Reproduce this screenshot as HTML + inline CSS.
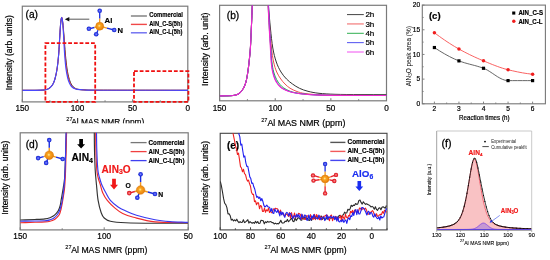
<!DOCTYPE html>
<html><head><meta charset="utf-8"><style>
html,body{margin:0;padding:0;background:#fff;width:550px;height:260px;overflow:hidden}
text{font-family:"Liberation Sans", sans-serif}
</style></head><body>
<svg width="550" height="260" viewBox="0 0 550 260" style="display:block;will-change:transform;font-family:'Liberation Sans', sans-serif">
<defs><radialGradient id="og" cx="0.45" cy="0.45" r="0.6"><stop offset="0" stop-color="#fff0a0"/><stop offset="0.3" stop-color="#f9a420"/><stop offset="1" stop-color="#e57a08"/></radialGradient><radialGradient id="gb" cx="0.5" cy="0.5" r="0.5"><stop offset="0" stop-color="#9aa2ff"/><stop offset="0.45" stop-color="#3a48f0"/><stop offset="1" stop-color="#1424c8"/></radialGradient><radialGradient id="gr" cx="0.5" cy="0.5" r="0.5"><stop offset="0" stop-color="#ffb0b0"/><stop offset="0.45" stop-color="#f04048"/><stop offset="1" stop-color="#d01018"/></radialGradient>
<clipPath id="ca"><rect x="22" y="6" width="166" height="96"/></clipPath>
<clipPath id="cb"><rect x="219.5" y="5.2" width="167" height="95.5"/></clipPath>
<clipPath id="cd"><rect x="20" y="132.8" width="168" height="97"/></clipPath>
<clipPath id="ce"><rect x="220.2" y="133.3" width="167" height="96.6"/></clipPath>
<clipPath id="cf"><rect x="436.7" y="131" width="95" height="99.5"/></clipPath>
<clipPath id="topclip"><rect x="0" y="0" width="550" height="123.3"/></clipPath>
</defs>
<rect width="550" height="260" fill="#fff"/>
<rect x="22.3" y="6.2" width="165.5" height="95.7" fill="none" stroke="#7a7a7a" stroke-width="1.2"/>
<line x1="187.8" y1="101.9" x2="187.8" y2="99.3" stroke="#7a7a7a" stroke-width="1"/>
<line x1="160.22" y1="101.9" x2="160.22" y2="100.3" stroke="#7a7a7a" stroke-width="1"/>
<line x1="132.63" y1="101.9" x2="132.63" y2="99.3" stroke="#7a7a7a" stroke-width="1"/>
<line x1="105.05" y1="101.9" x2="105.05" y2="100.3" stroke="#7a7a7a" stroke-width="1"/>
<line x1="77.47" y1="101.9" x2="77.47" y2="99.3" stroke="#7a7a7a" stroke-width="1"/>
<line x1="49.88" y1="101.9" x2="49.88" y2="100.3" stroke="#7a7a7a" stroke-width="1"/>
<line x1="22.3" y1="101.9" x2="22.3" y2="99.3" stroke="#7a7a7a" stroke-width="1"/>
<text x="22.3" y="111" font-size="8.2" text-anchor="middle" font-weight="normal" fill="#000"  stroke="#000" stroke-width="0.2">150</text>
<text x="77.47" y="111" font-size="8.2" text-anchor="middle" font-weight="normal" fill="#000"  stroke="#000" stroke-width="0.2">100</text>
<text x="132.63" y="111" font-size="8.2" text-anchor="middle" font-weight="normal" fill="#000"  stroke="#000" stroke-width="0.2">50</text>
<text x="187.8" y="111" font-size="8.2" text-anchor="middle" font-weight="normal" fill="#000"  stroke="#000" stroke-width="0.2">0</text>
<g clip-path="url(#topclip)">
<text x="66.3" y="121.3" font-size="5.6" text-anchor="start" font-weight="normal" fill="#000"  stroke="#000" stroke-width="0.1">27</text>
<text x="71.3" y="125" font-size="9" text-anchor="start" font-weight="normal" fill="#000" textLength="73" lengthAdjust="spacingAndGlyphs" stroke="#000" stroke-width="0.2">Al MAS NMR (ppm)</text>
</g>
<text x="11.8" y="52.7" font-size="8.8" text-anchor="middle" transform="rotate(-90 11.8 52.7)" textLength="75" lengthAdjust="spacingAndGlyphs" stroke="#000" stroke-width="0.2">Intensity (arb. units)</text>
<text x="25.5" y="17.6" font-size="10.2" text-anchor="start" font-weight="normal" fill="#000"  stroke="#000" stroke-width="0.28">(a)</text>
<g clip-path="url(#ca)">
<path d="M22.5,90.3 C26.67,90.3 31.75,90.32 35,90.3 C38.25,90.28 40.17,90.25 42,90.15 C43.83,90.05 44.83,89.99 46,89.7 C47.17,89.41 48.12,88.95 49,88.4 C49.88,87.85 50.57,87.27 51.3,86.4 C52.03,85.53 52.75,84.6 53.4,83.2 C54.05,81.8 54.57,80.53 55.2,78 C55.83,75.47 56.62,72 57.2,68 C57.78,64 58.27,59.33 58.7,54 C59.13,48.67 59.47,41.17 59.8,36 C60.13,30.83 60.38,26.1 60.7,23 C61.02,19.9 61.35,17.4 61.7,17.4 C62.05,17.4 62.44,19.9 62.82,23 C63.21,26.1 63.57,30.83 63.99,36 C64.41,41.17 64.85,48.5 65.36,54 C65.87,59.5 66.47,65 67.07,69 C67.67,73 68.32,75.62 68.95,78 C69.59,80.38 70.2,81.88 70.86,83.3 C71.52,84.72 72.16,85.65 72.93,86.5 C73.7,87.35 74.54,87.92 75.47,88.4 C76.39,88.88 76.65,89.13 78.49,89.4 C80.33,89.67 82.91,89.87 86.5,90 C90.09,90.13 83.12,90.15 100,90.2 C116.88,90.25 158.53,90.27 187.8,90.3" fill="none" stroke="#333" stroke-width="1" stroke-linejoin="round" />
<path d="M22.5,90.3 C26.67,90.3 31.75,90.32 35,90.3 C38.25,90.28 40.17,90.25 42,90.15 C43.83,90.05 44.83,89.99 46,89.7 C47.17,89.41 48.12,88.95 49,88.4 C49.88,87.85 50.57,87.27 51.3,86.4 C52.03,85.53 52.75,84.6 53.4,83.2 C54.05,81.8 54.57,80.53 55.2,78 C55.83,75.47 56.62,72 57.2,68 C57.78,64 58.27,59.33 58.7,54 C59.13,48.67 59.47,41.17 59.8,36 C60.13,30.83 60.38,26.1 60.7,23 C61.02,19.9 61.35,17.4 61.7,17.4 C62.05,17.4 62.42,19.9 62.77,23 C63.13,26.1 63.45,30.83 63.83,36 C64.21,41.17 64.59,48.5 65.06,54 C65.52,59.5 66.08,65 66.64,69 C67.21,73 67.84,75.62 68.45,78 C69.06,80.38 69.67,81.88 70.32,83.3 C70.97,84.72 71.6,85.65 72.36,86.5 C73.12,87.35 73.96,87.92 74.88,88.4 C75.8,88.88 76.06,89.13 77.89,89.4 C79.73,89.67 82.22,89.87 85.9,90 C89.58,90.13 83.02,90.15 100,90.2 C116.98,90.25 158.53,90.27 187.8,90.3" fill="none" stroke="#e8342e" stroke-width="1" stroke-linejoin="round" />
<path d="M22.5,90.3 C26.67,90.3 31.75,90.32 35,90.3 C38.25,90.28 40.17,90.25 42,90.15 C43.83,90.05 44.83,89.99 46,89.7 C47.17,89.41 48.12,88.95 49,88.4 C49.88,87.85 50.57,87.27 51.3,86.4 C52.03,85.53 52.75,84.6 53.4,83.2 C54.05,81.8 54.57,80.53 55.2,78 C55.83,75.47 56.62,72 57.2,68 C57.78,64 58.27,59.33 58.7,54 C59.13,48.67 59.47,41.17 59.8,36 C60.13,30.83 60.38,26.1 60.7,23 C61.02,19.9 61.37,17.4 61.7,17.4 C62.03,17.4 62.38,19.9 62.7,23 C63.02,26.1 63.28,30.83 63.6,36 C63.92,41.17 64.2,48.5 64.6,54 C65,59.5 65.48,65 66,69 C66.52,73 67.12,75.62 67.7,78 C68.28,80.38 68.87,81.88 69.5,83.3 C70.13,84.72 70.75,85.65 71.5,86.5 C72.25,87.35 73.08,87.92 74,88.4 C74.92,88.88 75.17,89.13 77,89.4 C78.83,89.67 81.17,89.87 85,90 C88.83,90.13 82.87,90.15 100,90.2 C117.13,90.25 158.53,90.27 187.8,90.3" fill="none" stroke="#4848ff" stroke-width="1.15" stroke-linejoin="round" />
</g>
<rect x="45.4" y="43.2" width="49.8" height="58.6" fill="none" stroke="#f01010" stroke-width="1.8" stroke-dasharray="3.8,1.9"/>
<rect x="134" y="71.2" width="54.4" height="30.6" fill="none" stroke="#f01010" stroke-width="1.8" stroke-dasharray="3.8,1.9"/>
<line x1="68" y1="19.2" x2="89.3" y2="19.2" stroke="#666" stroke-width="1.1" />
<path d="M64.8,19.2 L69.3,16.9 L69.3,21.5 Z" fill="#111"/>
<line x1="99.7" y1="26.2" x2="99.7" y2="18.5" stroke="#f39a1e" stroke-width="1.3" />
<line x1="99.7" y1="18.5" x2="99.7" y2="10.8" stroke="#1a2ee0" stroke-width="1.3" />
<line x1="99.7" y1="26.2" x2="94.3" y2="27.5" stroke="#f39a1e" stroke-width="1.3" />
<line x1="94.3" y1="27.5" x2="88.9" y2="28.8" stroke="#1a2ee0" stroke-width="1.3" />
<line x1="99.7" y1="26.2" x2="97.95" y2="30.2" stroke="#f39a1e" stroke-width="1.3" />
<line x1="97.95" y1="30.2" x2="96.2" y2="34.2" stroke="#1a2ee0" stroke-width="1.3" />
<line x1="99.7" y1="26.2" x2="106.95" y2="28.1" stroke="#f39a1e" stroke-width="1.3" />
<line x1="106.95" y1="28.1" x2="114.2" y2="30" stroke="#1a2ee0" stroke-width="1.3" />
<circle cx="99.7" cy="10.8" r="2.3" fill="url(#gb)"/>
<circle cx="88.9" cy="28.8" r="2.3" fill="url(#gb)"/>
<circle cx="96.2" cy="34.2" r="2.3" fill="url(#gb)"/>
<circle cx="114.2" cy="30" r="2.3" fill="url(#gb)"/>
<circle cx="99.7" cy="26.2" r="4" fill="url(#og)" stroke="#d9780a" stroke-width="0.5"/>
<text x="104.6" y="22.6" font-size="7.8" text-anchor="start" font-weight="bold" fill="#000"  stroke="#000" stroke-width="0.18">Al</text>
<text x="117.4" y="33.1" font-size="7.6" text-anchor="start" font-weight="bold" fill="#000"  stroke="#000" stroke-width="0.18">N</text>
<line x1="130.9" y1="16" x2="146.9" y2="16" stroke="#7a7a7a" stroke-width="1.4" />
<text x="149.2" y="17.2" font-size="7.4" text-anchor="start" font-weight="bold" fill="#000" textLength="33.7" lengthAdjust="spacingAndGlyphs" stroke="#000" stroke-width="0.18">Commercial</text>
<line x1="130.9" y1="24.4" x2="146.9" y2="24.4" stroke="#f04848" stroke-width="1.4" />
<text x="149.2" y="25.6" font-size="7.4" text-anchor="start" font-weight="bold" fill="#000" textLength="33.2" lengthAdjust="spacingAndGlyphs" stroke="#000" stroke-width="0.18">AlN_C-S(5h)</text>
<line x1="130.9" y1="32.8" x2="146.9" y2="32.8" stroke="#6a6af0" stroke-width="1.4" />
<text x="149.2" y="34" font-size="7.4" text-anchor="start" font-weight="bold" fill="#000" textLength="33.2" lengthAdjust="spacingAndGlyphs" stroke="#000" stroke-width="0.18">AlN_C-L(5h)</text>
<rect x="219.6" y="5.3" width="166.9" height="95.5" fill="none" stroke="#7a7a7a" stroke-width="1.2"/>
<line x1="386.5" y1="100.8" x2="386.5" y2="98.2" stroke="#7a7a7a" stroke-width="1"/>
<line x1="358.68" y1="100.8" x2="358.68" y2="99.2" stroke="#7a7a7a" stroke-width="1"/>
<line x1="330.87" y1="100.8" x2="330.87" y2="98.2" stroke="#7a7a7a" stroke-width="1"/>
<line x1="303.05" y1="100.8" x2="303.05" y2="99.2" stroke="#7a7a7a" stroke-width="1"/>
<line x1="275.23" y1="100.8" x2="275.23" y2="98.2" stroke="#7a7a7a" stroke-width="1"/>
<line x1="247.42" y1="100.8" x2="247.42" y2="99.2" stroke="#7a7a7a" stroke-width="1"/>
<line x1="219.6" y1="100.8" x2="219.6" y2="98.2" stroke="#7a7a7a" stroke-width="1"/>
<text x="219.6" y="111" font-size="8.2" text-anchor="middle" font-weight="normal" fill="#000"  stroke="#000" stroke-width="0.2">150</text>
<text x="275.23" y="111" font-size="8.2" text-anchor="middle" font-weight="normal" fill="#000"  stroke="#000" stroke-width="0.2">100</text>
<text x="330.87" y="111" font-size="8.2" text-anchor="middle" font-weight="normal" fill="#000"  stroke="#000" stroke-width="0.2">50</text>
<text x="386.5" y="111" font-size="8.2" text-anchor="middle" font-weight="normal" fill="#000"  stroke="#000" stroke-width="0.2">0</text>
<text x="261.2" y="121.8" font-size="5.6" text-anchor="start" font-weight="normal" fill="#000"  stroke="#000" stroke-width="0.1">27</text>
<text x="267.4" y="125.7" font-size="9" text-anchor="start" font-weight="normal" fill="#000" textLength="78" lengthAdjust="spacingAndGlyphs" stroke="#000" stroke-width="0.2">Al MAS NMR (ppm)</text>
<text x="208.3" y="49.3" font-size="8.6" text-anchor="middle" transform="rotate(-90 208.3 49.3)" textLength="73.5" lengthAdjust="spacingAndGlyphs" stroke="#000" stroke-width="0.2">Intensity (arb. unit)</text>
<text x="226.8" y="18.9" font-size="10.2" text-anchor="start" font-weight="normal" fill="#000"  stroke="#000" stroke-width="0.28">(b)</text>
<g clip-path="url(#cb)">
<path d="M219.8,95.9 C222.53,95.87 225.8,95.87 228,95.8 C230.2,95.73 231.5,95.7 233,95.5 C234.5,95.3 235.83,95.05 237,94.6 C238.17,94.15 239.12,93.57 240,92.8 C240.88,92.03 241.63,90.93 242.3,90 C242.97,89.07 243.42,88.45 244,87.2 C244.58,85.95 245.27,84.37 245.8,82.5 C246.33,80.63 246.75,78.58 247.2,76 C247.65,73.42 248.12,70 248.5,67 C248.88,64 249.18,61.17 249.5,58 C249.82,54.83 250.08,53.17 250.4,48 C250.72,42.83 251.08,34.17 251.4,27 C251.72,19.83 252.07,10.83 252.3,5 C252.53,-0.83 250.2,-5.83 252.8,-8 C255.4,-10.17 265.3,-10.17 267.9,-8 C270.5,-5.83 267.98,-1 268.4,5 C268.82,11 269.67,20.83 270.4,28 C271.13,35.17 271.82,42.33 272.8,48 C273.78,53.67 274.93,58 276.3,62 C277.67,66 279.3,69.17 281,72 C282.7,74.83 284.58,77 286.5,79 C288.42,81 290.33,82.45 292.5,84 C294.67,85.55 296.92,87.08 299.5,88.3 C302.08,89.52 304.75,90.47 308,91.3 C311.25,92.13 314.5,92.8 319,93.3 C323.5,93.8 328.17,94.08 335,94.3 C341.83,94.52 351.42,94.53 360,94.6 C368.58,94.67 377.67,94.67 386.5,94.7" fill="none" stroke="#333" stroke-width="1" stroke-linejoin="round" />
<path d="M219.8,95.9 C222.53,95.87 225.8,95.87 228,95.8 C230.2,95.73 231.5,95.7 233,95.5 C234.5,95.3 235.83,95.05 237,94.6 C238.17,94.15 239.12,93.57 240,92.8 C240.88,92.03 241.63,90.93 242.3,90 C242.97,89.07 243.42,88.45 244,87.2 C244.58,85.95 245.27,84.37 245.8,82.5 C246.33,80.63 246.75,78.58 247.2,76 C247.65,73.42 248.12,70 248.5,67 C248.88,64 249.18,61.17 249.5,58 C249.82,54.83 250.08,53.17 250.4,48 C250.72,42.83 251.08,34.17 251.4,27 C251.72,19.83 252.07,10.83 252.3,5 C252.53,-0.83 250.23,-5.83 252.8,-8 C255.37,-10.17 265.13,-10.17 267.7,-8 C270.27,-5.83 267.87,-1 268.2,5 C268.53,11 269.15,20.83 269.7,28 C270.25,35.17 270.85,42.33 271.5,48 C272.15,53.67 272.73,58 273.6,62 C274.47,66 275.5,69.17 276.7,72 C277.9,74.83 279.42,77 280.8,79 C282.18,81 283.47,82.47 285,84 C286.53,85.53 288,86.95 290,88.2 C292,89.45 294.5,90.62 297,91.5 C299.5,92.38 301.17,92.95 305,93.5 C308.83,94.05 313.33,94.5 320,94.8 C326.67,95.1 333.92,95.18 345,95.3 C356.08,95.42 372.67,95.43 386.5,95.5" fill="none" stroke="#f05050" stroke-width="1" stroke-linejoin="round" />
<path d="M219.8,95.9 C222.53,95.87 225.8,95.87 228,95.8 C230.2,95.73 231.5,95.7 233,95.5 C234.5,95.3 235.83,95.05 237,94.6 C238.17,94.15 239.12,93.57 240,92.8 C240.88,92.03 241.63,90.93 242.3,90 C242.97,89.07 243.42,88.45 244,87.2 C244.58,85.95 245.27,84.37 245.8,82.5 C246.33,80.63 246.75,78.58 247.2,76 C247.65,73.42 248.12,70 248.5,67 C248.88,64 249.18,61.17 249.5,58 C249.82,54.83 250.08,53.17 250.4,48 C250.72,42.83 251.08,34.17 251.4,27 C251.72,19.83 252.07,10.83 252.3,5 C252.53,-0.83 250.25,-5.83 252.8,-8 C255.35,-10.17 265.05,-10.17 267.6,-8 C270.15,-5.83 267.82,-1 268.1,5 C268.38,11 268.87,20.83 269.3,28 C269.73,35.17 270.27,42.33 270.7,48 C271.13,53.67 271.4,58 271.9,62 C272.4,66 272.92,69.08 273.7,72 C274.48,74.92 275.58,77.45 276.6,79.5 C277.62,81.55 278.6,82.88 279.8,84.3 C281,85.72 282.02,86.82 283.8,88 C285.58,89.18 287.8,90.48 290.5,91.4 C293.2,92.32 295.92,92.93 300,93.5 C304.08,94.07 308.33,94.5 315,94.8 C321.67,95.1 328.08,95.18 340,95.3 C351.92,95.42 371,95.43 386.5,95.5" fill="none" stroke="#22b24a" stroke-width="1" stroke-linejoin="round" />
<path d="M219.8,95.9 C222.53,95.87 225.8,95.87 228,95.8 C230.2,95.73 231.5,95.7 233,95.5 C234.5,95.3 235.83,95.05 237,94.6 C238.17,94.15 239.12,93.57 240,92.8 C240.88,92.03 241.63,90.93 242.3,90 C242.97,89.07 243.42,88.45 244,87.2 C244.58,85.95 245.27,84.37 245.8,82.5 C246.33,80.63 246.75,78.58 247.2,76 C247.65,73.42 248.12,70 248.5,67 C248.88,64 249.18,61.17 249.5,58 C249.82,54.83 250.08,53.17 250.4,48 C250.72,42.83 251.08,34.17 251.4,27 C251.72,19.83 252.07,10.83 252.3,5 C252.53,-0.83 250.18,-5.83 252.8,-8 C255.42,-10.17 265.38,-10.17 268,-8 C270.62,-5.83 268.23,-1 268.5,5 C268.77,11 269.22,20.83 269.6,28 C269.98,35.17 270.47,42.33 270.8,48 C271.13,53.67 271.23,58 271.6,62 C271.97,66 272.37,69.08 273,72 C273.63,74.92 274.5,77.42 275.4,79.5 C276.3,81.58 277.23,83.03 278.4,84.5 C279.57,85.97 280.4,87.08 282.4,88.3 C284.4,89.52 287.4,90.9 290.4,91.8 C293.4,92.7 296.23,93.18 300.4,93.7 C304.57,94.22 308.73,94.62 315.4,94.9 C322.07,95.18 328.48,95.3 340.4,95.4 C352.32,95.5 371.4,95.47 386.9,95.5" fill="none" stroke="#4b3df0" stroke-width="0.9" stroke-linejoin="round" />
<path d="M219.8,95.9 C222.53,95.87 225.8,95.87 228,95.8 C230.2,95.73 231.5,95.7 233,95.5 C234.5,95.3 235.83,95.05 237,94.6 C238.17,94.15 239.12,93.57 240,92.8 C240.88,92.03 241.63,90.93 242.3,90 C242.97,89.07 243.42,88.45 244,87.2 C244.58,85.95 245.27,84.37 245.8,82.5 C246.33,80.63 246.75,78.58 247.2,76 C247.65,73.42 248.12,70 248.5,67 C248.88,64 249.18,61.17 249.5,58 C249.82,54.83 250.08,53.17 250.4,48 C250.72,42.83 251.08,34.17 251.4,27 C251.72,19.83 252.07,10.83 252.3,5 C252.53,-0.83 250.25,-5.83 252.8,-8 C255.35,-10.17 265.05,-10.17 267.6,-8 C270.15,-5.83 267.83,-1 268.1,5 C268.37,11 268.82,20.83 269.2,28 C269.58,35.17 270.07,42.33 270.4,48 C270.73,53.67 270.83,58 271.2,62 C271.57,66 271.97,69.08 272.6,72 C273.23,74.92 274.1,77.42 275,79.5 C275.9,81.58 276.83,83.03 278,84.5 C279.17,85.97 280,87.08 282,88.3 C284,89.52 287,90.9 290,91.8 C293,92.7 295.83,93.18 300,93.7 C304.17,94.22 308.33,94.62 315,94.9 C321.67,95.18 328.08,95.3 340,95.4 C351.92,95.5 371,95.47 386.5,95.5" fill="none" stroke="#f028d0" stroke-width="1.15" stroke-linejoin="round" />
</g>
<line x1="347" y1="14.6" x2="363.8" y2="14.6" stroke="#444" stroke-width="1.0" />
<text x="365.4" y="17.4" font-size="8" text-anchor="start" font-weight="normal" fill="#000"  stroke="#000" stroke-width="0.2">2h</text>
<line x1="347" y1="23.95" x2="363.8" y2="23.95" stroke="#f06060" stroke-width="1.0" />
<text x="365.4" y="26.75" font-size="8" text-anchor="start" font-weight="normal" fill="#000"  stroke="#000" stroke-width="0.2">3h</text>
<line x1="347" y1="33.3" x2="363.8" y2="33.3" stroke="#30b050" stroke-width="1.0" />
<text x="365.4" y="36.1" font-size="8" text-anchor="start" font-weight="normal" fill="#000"  stroke="#000" stroke-width="0.2">4h</text>
<line x1="347" y1="42.65" x2="363.8" y2="42.65" stroke="#5050f0" stroke-width="1.0" />
<text x="365.4" y="45.45" font-size="8" text-anchor="start" font-weight="normal" fill="#000"  stroke="#000" stroke-width="0.2">5h</text>
<line x1="347" y1="52" x2="363.8" y2="52" stroke="#f050f0" stroke-width="1.0" />
<text x="365.4" y="54.8" font-size="8" text-anchor="start" font-weight="normal" fill="#000"  stroke="#000" stroke-width="0.2">6h</text>
<rect x="422.3" y="5.1" width="123.1" height="98.7" fill="none" stroke="#777" stroke-width="1.1"/>
<line x1="422.3" y1="103.8" x2="424.5" y2="103.8" stroke="#777" stroke-width="0.9"/>
<text x="420.2" y="106.1" font-size="6.6" text-anchor="end" font-weight="normal" fill="#000"  stroke="#000" stroke-width="0.2">0</text>
<line x1="422.3" y1="79.12" x2="424.5" y2="79.12" stroke="#777" stroke-width="0.9"/>
<text x="420.2" y="81.42" font-size="6.6" text-anchor="end" font-weight="normal" fill="#000"  stroke="#000" stroke-width="0.2">5</text>
<line x1="422.3" y1="54.45" x2="424.5" y2="54.45" stroke="#777" stroke-width="0.9"/>
<text x="420.2" y="56.75" font-size="6.6" text-anchor="end" font-weight="normal" fill="#000"  stroke="#000" stroke-width="0.2">10</text>
<line x1="422.3" y1="29.77" x2="424.5" y2="29.77" stroke="#777" stroke-width="0.9"/>
<text x="420.2" y="32.07" font-size="6.6" text-anchor="end" font-weight="normal" fill="#000"  stroke="#000" stroke-width="0.2">15</text>
<line x1="422.3" y1="5.1" x2="424.5" y2="5.1" stroke="#777" stroke-width="0.9"/>
<text x="420.2" y="7.4" font-size="6.6" text-anchor="end" font-weight="normal" fill="#000"  stroke="#000" stroke-width="0.2">20</text>
<line x1="422.3" y1="91.46" x2="423.6" y2="91.46" stroke="#777" stroke-width="0.9"/>
<line x1="422.3" y1="66.79" x2="423.6" y2="66.79" stroke="#777" stroke-width="0.9"/>
<line x1="422.3" y1="42.11" x2="423.6" y2="42.11" stroke="#777" stroke-width="0.9"/>
<line x1="422.3" y1="17.44" x2="423.6" y2="17.44" stroke="#777" stroke-width="0.9"/>
<line x1="434.4" y1="103.8" x2="434.4" y2="101.6" stroke="#777" stroke-width="0.9"/>
<text x="434.4" y="111" font-size="6.6" text-anchor="middle" font-weight="normal" fill="#000"  stroke="#000" stroke-width="0.2">2</text>
<line x1="458.95" y1="103.8" x2="458.95" y2="101.6" stroke="#777" stroke-width="0.9"/>
<text x="458.95" y="111" font-size="6.6" text-anchor="middle" font-weight="normal" fill="#000"  stroke="#000" stroke-width="0.2">3</text>
<line x1="483.5" y1="103.8" x2="483.5" y2="101.6" stroke="#777" stroke-width="0.9"/>
<text x="483.5" y="111" font-size="6.6" text-anchor="middle" font-weight="normal" fill="#000"  stroke="#000" stroke-width="0.2">4</text>
<line x1="508.05" y1="103.8" x2="508.05" y2="101.6" stroke="#777" stroke-width="0.9"/>
<text x="508.05" y="111" font-size="6.6" text-anchor="middle" font-weight="normal" fill="#000"  stroke="#000" stroke-width="0.2">5</text>
<line x1="532.6" y1="103.8" x2="532.6" y2="101.6" stroke="#777" stroke-width="0.9"/>
<text x="532.6" y="111" font-size="6.6" text-anchor="middle" font-weight="normal" fill="#000"  stroke="#000" stroke-width="0.2">6</text>
<line x1="446.67" y1="103.8" x2="446.67" y2="102.5" stroke="#777" stroke-width="0.9"/>
<line x1="471.22" y1="103.8" x2="471.22" y2="102.5" stroke="#777" stroke-width="0.9"/>
<line x1="495.77" y1="103.8" x2="495.77" y2="102.5" stroke="#777" stroke-width="0.9"/>
<line x1="520.32" y1="103.8" x2="520.32" y2="102.5" stroke="#777" stroke-width="0.9"/>
<text x="484.3" y="120.1" font-size="6.5" text-anchor="middle" font-weight="normal" fill="#000" textLength="50.4" lengthAdjust="spacingAndGlyphs" stroke="#000" stroke-width="0.2">Reaction times (h)</text>
<text font-size="6.7" transform="translate(410.8 86.2) rotate(-90)" textLength="60" lengthAdjust="spacingAndGlyphs">AlN<tspan font-size="4.6" dy="1.3">3</tspan><tspan dy="-1.3">O peak area (%)</tspan></text>
<text x="428.9" y="19.4" font-size="9.6" text-anchor="start" font-weight="bold" fill="#000"  stroke="#000" stroke-width="0.18">(c)</text>
<path d="M434.4,32.74 L436.92,34.61 L439.44,36.45 L441.95,38.24 L444.47,39.99 L446.99,41.69 L449.51,43.33 L452.03,44.93 L454.54,46.47 L457.06,47.95 L459.58,49.37 L462.1,50.75 L464.62,52.08 L467.13,53.37 L469.65,54.63 L472.17,55.84 L474.69,57.02 L477.21,58.16 L479.72,59.27 L482.24,60.34 L484.76,61.39 L487.28,62.43 L489.79,63.47 L492.31,64.49 L494.83,65.47 L497.35,66.42 L499.87,67.32 L502.38,68.15 L504.9,68.92 L507.42,69.59 L509.94,70.2 L512.46,70.78 L514.97,71.34 L517.49,71.87 L520.01,72.37 L522.53,72.83 L525.05,73.25 L527.56,73.62 L530.08,73.93 L532.6,74.19" fill="none" stroke="#f85050" stroke-width="0.9" stroke-linejoin="round" />
<path d="M434.4,47.54 L436.92,49.19 L439.44,50.79 L441.95,52.33 L444.47,53.81 L446.99,55.22 L449.51,56.56 L452.03,57.83 L454.54,59.01 L457.06,60.11 L459.58,61.11 L462.1,61.99 L464.62,62.79 L467.13,63.51 L469.65,64.19 L472.17,64.85 L474.69,65.51 L477.21,66.21 L479.72,66.97 L482.24,67.81 L484.76,68.79 L487.28,70.07 L489.79,71.6 L492.31,73.26 L494.83,74.96 L497.35,76.61 L499.87,78.09 L502.38,79.32 L504.9,80.18 L507.42,80.59 L509.94,80.61 L512.46,80.61 L514.97,80.61 L517.49,80.61 L520.01,80.61 L522.53,80.61 L525.05,80.61 L527.56,80.61 L530.08,80.61 L532.6,80.61" fill="none" stroke="#555" stroke-width="0.9" stroke-linejoin="round" />
<circle cx="434.4" cy="32.74" r="1.75" fill="#f01e1e" stroke="none" stroke-width="0" />
<rect x="432.8" y="45.94" width="3.2" height="3.2" fill="#000"/>
<circle cx="458.95" cy="49.02" r="1.75" fill="#f01e1e" stroke="none" stroke-width="0" />
<rect x="457.35" y="59.27" width="3.2" height="3.2" fill="#000"/>
<circle cx="483.5" cy="60.87" r="1.75" fill="#f01e1e" stroke="none" stroke-width="0" />
<rect x="481.9" y="66.67" width="3.2" height="3.2" fill="#000"/>
<circle cx="508.05" cy="69.75" r="1.75" fill="#f01e1e" stroke="none" stroke-width="0" />
<rect x="506.45" y="79.01" width="3.2" height="3.2" fill="#000"/>
<circle cx="532.6" cy="74.19" r="1.75" fill="#f01e1e" stroke="none" stroke-width="0" />
<rect x="531" y="79.01" width="3.2" height="3.2" fill="#000"/>
<rect x="512.2" y="11.5" width="3.1" height="3.1" fill="#000"/>
<circle cx="513.8" cy="21.2" r="1.7" fill="#f01e1e" stroke="none" stroke-width="0" />
<text x="518.4" y="15.2" font-size="6.5" text-anchor="start" font-weight="bold" fill="#000" textLength="24.6" lengthAdjust="spacingAndGlyphs" stroke="#000" stroke-width="0.18">AlN_C-S</text>
<text x="518.4" y="23.5" font-size="6.5" text-anchor="start" font-weight="bold" fill="#000" textLength="24.2" lengthAdjust="spacingAndGlyphs" stroke="#000" stroke-width="0.18">AlN_C-L</text>
<rect x="20.2" y="132.8" width="168" height="97.1" fill="none" stroke="#7a7a7a" stroke-width="1.2"/>
<line x1="188.2" y1="229.9" x2="188.2" y2="227.3" stroke="#7a7a7a" stroke-width="1"/>
<line x1="146.2" y1="229.9" x2="146.2" y2="228.3" stroke="#7a7a7a" stroke-width="1"/>
<line x1="104.2" y1="229.9" x2="104.2" y2="227.3" stroke="#7a7a7a" stroke-width="1"/>
<line x1="62.2" y1="229.9" x2="62.2" y2="228.3" stroke="#7a7a7a" stroke-width="1"/>
<line x1="20.2" y1="229.9" x2="20.2" y2="227.3" stroke="#7a7a7a" stroke-width="1"/>
<text x="20.2" y="239.2" font-size="8.2" text-anchor="middle" font-weight="normal" fill="#000"  stroke="#000" stroke-width="0.2">150</text>
<text x="104.2" y="239.2" font-size="8.2" text-anchor="middle" font-weight="normal" fill="#000"  stroke="#000" stroke-width="0.2">100</text>
<text x="188.2" y="239.2" font-size="8.2" text-anchor="middle" font-weight="normal" fill="#000"  stroke="#000" stroke-width="0.2">50</text>
<text x="65.3" y="249.3" font-size="5.6" text-anchor="start" font-weight="normal" fill="#000"  stroke="#000" stroke-width="0.1">27</text>
<text x="71.3" y="253.2" font-size="9" text-anchor="start" font-weight="normal" fill="#000" textLength="76" lengthAdjust="spacingAndGlyphs" stroke="#000" stroke-width="0.2">Al MAS NMR (ppm)</text>
<text x="8.5" y="177.7" font-size="8.5" text-anchor="middle" transform="rotate(-90 8.5 177.7)" textLength="74" lengthAdjust="spacingAndGlyphs" stroke="#000" stroke-width="0.2">Intensity (arb. units)</text>
<text x="25.7" y="147.8" font-size="10.2" text-anchor="start" font-weight="normal" fill="#000"  stroke="#000" stroke-width="0.28">(d)</text>
<g clip-path="url(#cd)">
<path d="M20.3,220 C25.2,219.83 30.88,219.68 35,219.5 C39.12,219.32 42.5,219.2 45,218.9 C47.5,218.6 48.55,218.22 50,217.7 C51.45,217.18 52.62,216.55 53.7,215.8 C54.78,215.05 55.7,214.12 56.5,213.2 C57.3,212.28 57.88,211.58 58.5,210.3 C59.12,209.02 59.73,207.35 60.2,205.5 C60.67,203.65 60.78,202.17 61.3,199.2 C61.82,196.23 62.75,191.23 63.3,187.7 C63.85,184.17 64.22,183.45 64.6,178 C64.98,172.55 65.33,162.17 65.6,155 C65.87,147.83 66.05,140 66.2,135 C66.35,130 66.38,129.17 66.5,125 C66.62,120.83 62.35,112.5 66.9,110 C71.45,107.5 89.25,107.5 93.8,110 C98.35,112.5 94.08,118.33 94.2,125 C94.32,131.67 94.33,142.5 94.5,150 C94.67,157.5 94.87,164.17 95.2,170 C95.53,175.83 96.02,179.93 96.5,185 C96.98,190.07 97.32,195.78 98.1,200.4 C98.88,205.02 100.18,209.77 101.2,212.7 C102.22,215.63 102.67,216.58 104.2,218 C105.73,219.42 106.8,220.42 110.4,221.2 C114,221.98 118.37,222.37 125.8,222.7 C133.23,223.03 144.63,223.12 155,223.2 C165.37,223.28 177,223.2 188,223.2" fill="none" stroke="#333" stroke-width="1.15" stroke-linejoin="round" />
<path d="M20.3,222.7 C25.2,222.57 30.88,222.43 35,222.3 C39.12,222.17 42.5,222.08 45,221.9 C47.5,221.72 48.4,221.62 50,221.2 C51.6,220.78 53.43,220.05 54.6,219.4 C55.77,218.75 56.2,218.1 57,217.3 C57.8,216.5 58.73,215.9 59.4,214.6 C60.07,213.3 60.52,211.43 61,209.5 C61.48,207.57 61.87,205.42 62.3,203 C62.73,200.58 63.22,197.55 63.6,195 C63.98,192.45 64.3,191.03 64.6,187.7 C64.9,184.37 65.17,180.45 65.4,175 C65.63,169.55 65.82,161.67 66,155 C66.18,148.33 66.37,140 66.5,135 C66.63,130 66.7,129.17 66.8,125 C66.9,120.83 62.37,112.5 67.1,110 C71.83,107.5 90.45,107.5 95.2,110 C99.95,112.5 95.48,118.33 95.6,125 C95.72,131.67 95.7,142.5 95.9,150 C96.1,157.5 96.42,165.33 96.8,170 C97.18,174.67 97.6,175.5 98.2,178 C98.8,180.5 99.65,182.55 100.4,185 C101.15,187.45 101.55,190.13 102.7,192.7 C103.85,195.27 105.25,197.83 107.3,200.4 C109.35,202.97 112.43,205.92 115,208.1 C117.57,210.28 119.62,211.97 122.7,213.5 C125.78,215.03 128.12,215.9 133.5,217.3 C138.88,218.7 145.93,221.02 155,221.9 C164.07,222.78 176.93,222.37 187.9,222.6" fill="none" stroke="#f02c2c" stroke-width="1.15" stroke-linejoin="round" />
<path d="M20.3,221.3 C25.2,221.2 30.88,221.08 35,221 C39.12,220.92 42.5,221 45,220.8 C47.5,220.6 48.5,220.27 50,219.8 C51.5,219.33 52.83,218.8 54,218 C55.17,217.2 56.13,216.08 57,215 C57.87,213.92 58.53,213 59.2,211.5 C59.87,210 60.48,207.92 61,206 C61.52,204.08 61.83,202.83 62.3,200 C62.77,197.17 63.4,192.67 63.8,189 C64.2,185.33 64.43,182.83 64.7,178 C64.97,173.17 65.2,166.33 65.4,160 C65.6,153.67 65.75,145.83 65.9,140 C66.05,134.17 66.17,130 66.3,125 C66.43,120 61.75,112.5 66.7,110 C71.65,107.5 91.05,107.5 96,110 C100.95,112.5 96.27,118.33 96.4,125 C96.53,131.67 96.55,142.5 96.8,150 C97.05,157.5 97.43,165.33 97.9,170 C98.37,174.67 98.93,175.5 99.6,178 C100.27,180.5 100.87,182.55 101.9,185 C102.93,187.45 104.38,190.13 105.8,192.7 C107.22,195.27 108.35,198.02 110.4,200.4 C112.45,202.78 115.53,205.23 118.1,207 C120.67,208.77 122.73,209.62 125.8,211 C128.87,212.38 131.63,213.83 136.5,215.3 C141.37,216.77 149.42,218.75 155,219.8 C160.58,220.85 164.52,221.17 170,221.6 C175.48,222.03 181.93,222.13 187.9,222.4" fill="none" stroke="#3a3af0" stroke-width="1.15" stroke-linejoin="round" />
</g>
<line x1="49.25" y1="155.2" x2="49.25" y2="147.65" stroke="#f39a1e" stroke-width="1.4" />
<line x1="49.25" y1="147.65" x2="49.25" y2="140.1" stroke="#1a2ee0" stroke-width="1.4" />
<line x1="49.25" y1="155.2" x2="43.67" y2="156.65" stroke="#f39a1e" stroke-width="1.4" />
<line x1="43.67" y1="156.65" x2="38.1" y2="158.1" stroke="#1a2ee0" stroke-width="1.4" />
<line x1="49.25" y1="155.2" x2="47.7" y2="159.05" stroke="#f39a1e" stroke-width="1.4" />
<line x1="47.7" y1="159.05" x2="46.15" y2="162.9" stroke="#1a2ee0" stroke-width="1.4" />
<line x1="49.25" y1="155.2" x2="55.98" y2="157.1" stroke="#f39a1e" stroke-width="1.4" />
<line x1="55.98" y1="157.1" x2="62.7" y2="159" stroke="#1a2ee0" stroke-width="1.4" />
<circle cx="49.25" cy="140.1" r="2.3" fill="url(#gb)"/>
<circle cx="38.1" cy="158.1" r="2.3" fill="url(#gb)"/>
<circle cx="46.15" cy="162.9" r="2.3" fill="url(#gb)"/>
<circle cx="62.7" cy="159" r="2.3" fill="url(#gb)"/>
<circle cx="49.25" cy="155.2" r="4.3" fill="url(#og)" stroke="#d9780a" stroke-width="0.5"/>
<path d="M79.23,139 L82.97,139 L82.97,144.28 L85.1,144.28 L81.1,148.6 L77.1,144.28 L79.23,144.28 Z" fill="#000"/>
<text x="71.5" y="160.8" font-size="10.2" font-weight="bold" stroke="#000" stroke-width="0.18">AlN<tspan font-size="7" dy="1.8">4</tspan></text>
<text x="101.6" y="172.6" font-size="10.4" font-weight="bold" fill="#f01818" textLength="29" lengthAdjust="spacingAndGlyphs" stroke="#f01818" stroke-width="0.18">AlN<tspan font-size="7.2" dy="1.8">3</tspan><tspan dy="-1.8">O</tspan></text>
<path d="M112.13,178.8 L115.87,178.8 L115.87,184.74 L118,184.74 L114,189.6 L110,184.74 L112.13,184.74 Z" fill="#f01818"/>
<line x1="140.6" y1="190" x2="134.9" y2="191.55" stroke="#f39a1e" stroke-width="1.4" />
<line x1="134.9" y1="191.55" x2="129.2" y2="193.1" stroke="#e8202a" stroke-width="1.4" />
<line x1="140.6" y1="190" x2="140.6" y2="182.1" stroke="#f39a1e" stroke-width="1.4" />
<line x1="140.6" y1="182.1" x2="140.6" y2="174.2" stroke="#1a2ee0" stroke-width="1.4" />
<line x1="140.6" y1="190" x2="147.8" y2="192" stroke="#f39a1e" stroke-width="1.4" />
<line x1="147.8" y1="192" x2="155" y2="194" stroke="#1a2ee0" stroke-width="1.4" />
<line x1="140.6" y1="190" x2="138.95" y2="193.85" stroke="#f39a1e" stroke-width="1.4" />
<line x1="138.95" y1="193.85" x2="137.3" y2="197.7" stroke="#1a2ee0" stroke-width="1.4" />
<circle cx="129.2" cy="193.1" r="2.3" fill="url(#gr)"/>
<circle cx="140.6" cy="174.2" r="2.3" fill="url(#gb)"/>
<circle cx="155" cy="194" r="2.3" fill="url(#gb)"/>
<circle cx="137.3" cy="197.7" r="2.3" fill="url(#gb)"/>
<circle cx="140.6" cy="190" r="4.3" fill="url(#og)" stroke="#d9780a" stroke-width="0.5"/>
<text x="125.6" y="188.2" font-size="6.8" text-anchor="start" font-weight="bold" fill="#000"  stroke="#000" stroke-width="0.18">O</text>
<text x="158.3" y="196.6" font-size="6.8" text-anchor="start" font-weight="bold" fill="#000"  stroke="#000" stroke-width="0.18">N</text>
<line x1="130.6" y1="142.6" x2="146.6" y2="142.6" stroke="#777" stroke-width="1.3" />
<text x="148.5" y="145.2" font-size="7.4" text-anchor="start" font-weight="bold" fill="#000" textLength="36.0" lengthAdjust="spacingAndGlyphs" stroke="#000" stroke-width="0.18">Commercial</text>
<line x1="130.6" y1="151.6" x2="146.6" y2="151.6" stroke="#f04040" stroke-width="1.3" />
<text x="148.5" y="154.2" font-size="7.4" text-anchor="start" font-weight="bold" fill="#000" textLength="36.0" lengthAdjust="spacingAndGlyphs" stroke="#000" stroke-width="0.18">AlN_C-S(5h)</text>
<line x1="130.6" y1="160.6" x2="146.6" y2="160.6" stroke="#4040f0" stroke-width="1.3" />
<text x="148.5" y="163.2" font-size="7.4" text-anchor="start" font-weight="bold" fill="#000" textLength="36.0" lengthAdjust="spacingAndGlyphs" stroke="#000" stroke-width="0.18">AlN_C-L(5h)</text>
<rect x="220.2" y="133.3" width="166.8" height="96.6" fill="none" stroke="#444" stroke-width="1.1"/>
<line x1="387" y1="229.9" x2="387" y2="228.3" stroke="#444" stroke-width="1"/>
<line x1="371.84" y1="229.9" x2="371.84" y2="227.3" stroke="#444" stroke-width="1"/>
<line x1="356.67" y1="229.9" x2="356.67" y2="228.3" stroke="#444" stroke-width="1"/>
<line x1="341.51" y1="229.9" x2="341.51" y2="227.3" stroke="#444" stroke-width="1"/>
<line x1="326.35" y1="229.9" x2="326.35" y2="228.3" stroke="#444" stroke-width="1"/>
<line x1="311.18" y1="229.9" x2="311.18" y2="227.3" stroke="#444" stroke-width="1"/>
<line x1="296.02" y1="229.9" x2="296.02" y2="228.3" stroke="#444" stroke-width="1"/>
<line x1="280.85" y1="229.9" x2="280.85" y2="227.3" stroke="#444" stroke-width="1"/>
<line x1="265.69" y1="229.9" x2="265.69" y2="228.3" stroke="#444" stroke-width="1"/>
<line x1="250.53" y1="229.9" x2="250.53" y2="227.3" stroke="#444" stroke-width="1"/>
<line x1="235.36" y1="229.9" x2="235.36" y2="228.3" stroke="#444" stroke-width="1"/>
<line x1="220.2" y1="229.9" x2="220.2" y2="227.3" stroke="#444" stroke-width="1"/>
<text x="220.2" y="239.2" font-size="8.2" text-anchor="middle" font-weight="normal" fill="#000"  stroke="#000" stroke-width="0.2">100</text>
<text x="250.53" y="239.2" font-size="8.2" text-anchor="middle" font-weight="normal" fill="#000"  stroke="#000" stroke-width="0.2">80</text>
<text x="280.85" y="239.2" font-size="8.2" text-anchor="middle" font-weight="normal" fill="#000"  stroke="#000" stroke-width="0.2">60</text>
<text x="311.18" y="239.2" font-size="8.2" text-anchor="middle" font-weight="normal" fill="#000"  stroke="#000" stroke-width="0.2">40</text>
<text x="341.51" y="239.2" font-size="8.2" text-anchor="middle" font-weight="normal" fill="#000"  stroke="#000" stroke-width="0.2">20</text>
<text x="371.84" y="239.2" font-size="8.2" text-anchor="middle" font-weight="normal" fill="#000"  stroke="#000" stroke-width="0.2">0</text>
<text x="264.6" y="249.2" font-size="5.6" text-anchor="start" font-weight="normal" fill="#000"  stroke="#000" stroke-width="0.1">27</text>
<text x="270.6" y="253.1" font-size="9" text-anchor="start" font-weight="normal" fill="#000" textLength="76" lengthAdjust="spacingAndGlyphs" stroke="#000" stroke-width="0.2">Al MAS NMR (ppm)</text>
<text x="208.3" y="177.9" font-size="8.5" text-anchor="middle" transform="rotate(-90 208.3 177.9)" textLength="74" lengthAdjust="spacingAndGlyphs" stroke="#000" stroke-width="0.2">Intensity (arb. units)</text>
<text x="226.9" y="148.6" font-size="10" text-anchor="start" font-weight="bold" fill="#000"  stroke="#000" stroke-width="0.18">(e)</text>
<g clip-path="url(#ce)">
<path d="M220.3,181.45 L221.4,185.89 L222.5,192.01 L223.6,198.68 L224.7,203.27 L225.8,204.63 L226.9,207.68 L228,213.94 L229.1,213.78 L230.2,215.68 L231.3,220.07 L232.4,219.21 L233.5,220.99 L234.6,219.86 L235.7,220.83 L236.8,219.19 L237.9,221.44 L239,222.69 L240.1,221.59 L241.2,222.48 L242.3,222.22 L243.4,219.81 L244.5,222.6 L245.6,221.95 L246.7,220.81 L247.8,219.74 L248.9,223.1 L250,221.54 L251.1,222.54 L252.2,223.2 L253.3,222.56 L254.4,223.4 L255.5,221.31 L256.6,222.95 L257.7,221.54 L258.8,223.52 L259.9,223.31 L261,220.23 L262.1,220.43 L263.2,220.8 L264.3,223.83 L265.4,221.76 L266.5,222.57 L267.6,221.31 L268.7,222.18 L269.8,221.74 L270.9,221.64 L272,222.62 L273.1,222.66 L274.2,223.98 L275.3,223.08 L276.4,223.91 L277.5,223.46 L278.6,223.84 L279.7,222.4 L280.8,220.2 L281.9,222.83 L283,223.09 L284.1,222.68 L285.2,221.18 L286.3,221.6 L287.4,219.43 L288.5,221.75 L289.6,220.55 L290.7,219.25 L291.8,218.22 L292.9,221.24 L294,221.64 L295.1,217.89 L296.2,220.6 L297.3,218.89 L298.4,217.71 L299.5,218.14 L300.6,219.95 L301.7,220.31 L302.8,216.95 L303.9,219.18 L305,216.85 L306.1,219.5 L307.2,217.9 L308.3,220.05 L309.4,220.4 L310.5,218.45 L311.6,220.37 L312.7,217.57 L313.8,216.59 L314.9,218.63 L316,216.31 L317.1,216.92 L318.2,217.71 L319.3,218.47 L320.4,216.61 L321.5,216.11 L322.6,219.37 L323.7,217.11 L324.8,219.64 L325.9,219.35 L327,217.23 L328.1,217.51 L329.2,217.71 L330.3,218.16 L331.4,217.92 L332.5,217.73 L333.6,217.93 L334.7,219.17 L335.8,217.39 L336.9,217.04 L338,217.88 L339.1,215.46 L340.2,215.24 L341.3,217.46 L342.4,215.16 L343.5,214.79 L344.6,212.16 L345.7,213.29 L346.8,212.82 L347.9,209.21 L349,210.21 L350.1,208.9 L351.2,205.24 L352.3,206.35 L353.4,205.14 L354.5,205.42 L355.6,203.55 L356.7,204.4 L357.8,203.95 L358.9,200.52 L360,200.1 L361.1,202.41 L362.2,204.12 L363.3,201.84 L364.4,203.22 L365.5,204.33 L366.6,203.81 L367.7,204.55 L368.8,204.89 L369.9,205.62 L371,207.03 L372.1,206.36 L373.2,207.17 L374.3,209.26 L375.4,206.78 L376.5,209.46 L377.6,210.34 L378.7,208.35 L379.8,207.72 L380.9,209.76 L382,207.22 L383.1,206.73 L384.2,207.44 L385.3,208.2 L386.4,205.54" fill="none" stroke="#2a2a2a" stroke-width="1.1" stroke-linejoin="round" />
<path d="M232.5,130.74 L233.5,135.65 L234.5,140.49 L235.5,145.88 L236.5,149.18 L237.5,154.53 L238.5,153.17 L239.5,159.79 L240.5,166.66 L241.5,168.02 L242.5,171.78 L243.5,169.3 L244.5,173.69 L245.5,174.62 L246.5,178.69 L247.5,181.16 L248.5,180.08 L249.5,183.59 L250.5,186.25 L251.5,192.36 L252.5,194.36 L253.5,194.25 L254.5,201.61 L255.5,200.93 L256.5,204.76 L257.5,202.78 L258.5,202.85 L259.5,208.74 L260.5,205.44 L261.5,206.15 L262.5,211.42 L263.5,211.43 L264.5,208.08 L265.5,212.25 L266.5,209.86 L267.5,210.84 L268.5,208.07 L269.5,212.54 L270.5,211.09 L271.5,212.8 L272.5,212.41 L273.5,208.89 L274.5,209.32 L275.5,208.25 L276.5,208.7 L277.5,208.78 L278.5,210.76 L279.5,213.14 L280.5,210.11 L281.5,214.72 L282.5,213.24 L283.5,213.42 L284.5,216.59 L285.5,214.68 L286.5,213.81 L287.5,214.92 L288.5,216.38 L289.5,212.61 L290.5,218.23 L291.5,212.64 L292.5,217.12 L293.5,217.8 L294.5,212.96 L295.5,217.7 L296.5,215.29 L297.5,216.68 L298.5,213.38 L299.5,213.72 L300.5,214.6 L301.5,219.28 L302.5,214.77 L303.5,218.16 L304.5,219.24 L305.5,219.34 L306.5,215.79 L307.5,215.89 L308.5,216.95 L309.5,218.49 L310.5,214.52 L311.5,218.39 L312.5,218.72 L313.5,219.13 L314.5,214.23 L315.5,219.72 L316.5,214.62 L317.5,216.16 L318.5,217.81 L319.5,219.69 L320.5,216.26 L321.5,219.82 L322.5,217.59 L323.5,216.25 L324.5,216.32 L325.5,215.53 L326.5,214.99 L327.5,215.46 L328.5,218.75 L329.5,220.64 L330.5,215.68 L331.5,215.05 L332.5,220.73 L333.5,218.06 L334.5,217.34 L335.5,216.38 L336.5,218.57 L337.5,220.01 L338.5,217.84 L339.5,217.68 L340.5,215.54 L341.5,220.75 L342.5,215.5 L343.5,217.68 L344.5,219.18 L345.5,214.35 L346.5,217.38 L347.5,218.11 L348.5,215.62 L349.5,215.99 L350.5,211.32 L351.5,212.68 L352.5,210.37 L353.5,213.94 L354.5,210.03 L355.5,210.38 L356.5,213.05 L357.5,211.56 L358.5,211.7 L359.5,207.96 L360.5,208.17 L361.5,210.03 L362.5,208.93 L363.5,208.21 L364.5,209.29 L365.5,208.16 L366.5,209.95 L367.5,214.02 L368.5,214.26 L369.5,212.64 L370.5,212.25 L371.5,211.67 L372.5,210.55 L373.5,212.03 L374.5,215.47 L375.5,216.36 L376.5,213.7 L377.5,216.38 L378.5,215.87 L379.5,214.95 L380.5,214.32 L381.5,214.45 L382.5,211.63 L383.5,213.23 L384.5,210.25 L385.5,211.03 L386.5,212.3" fill="none" stroke="#f02020" stroke-width="1.1" stroke-linejoin="round" />
<path d="M237.8,129.78 L238.8,133.8 L239.8,136.59 L240.8,145.16 L241.8,144.2 L242.8,151.02 L243.8,157.14 L244.8,155.98 L245.8,162.58 L246.8,166.37 L247.8,166.25 L248.8,171.61 L249.8,176.86 L250.8,178.54 L251.8,183.37 L252.8,183.15 L253.8,186.82 L254.8,189.25 L255.8,193.93 L256.8,197.41 L257.8,196.39 L258.8,198.47 L259.8,197.11 L260.8,200.76 L261.8,198.49 L262.8,201.23 L263.8,205.13 L264.8,207.03 L265.8,206.25 L266.8,205.15 L267.8,206.8 L268.8,206.96 L269.8,207.89 L270.8,211.56 L271.8,208.4 L272.8,213.02 L273.8,213.48 L274.8,209.03 L275.8,211.41 L276.8,212.43 L277.8,209.96 L278.8,212.71 L279.8,215.94 L280.8,211.52 L281.8,214.77 L282.8,212.26 L283.8,215.24 L284.8,217.34 L285.8,213.39 L286.8,212.43 L287.8,213.09 L288.8,216.03 L289.8,213.1 L290.8,213.71 L291.8,216.24 L292.8,218.84 L293.8,215.89 L294.8,215.82 L295.8,217.32 L296.8,214.1 L297.8,217.08 L298.8,214.69 L299.8,217.37 L300.8,219.52 L301.8,214.16 L302.8,217.22 L303.8,217.58 L304.8,214.9 L305.8,215.67 L306.8,220.09 L307.8,220.16 L308.8,214.96 L309.8,218.52 L310.8,220.03 L311.8,215.77 L312.8,218.04 L313.8,214.65 L314.8,216.62 L315.8,218.49 L316.8,218.01 L317.8,219.14 L318.8,215.04 L319.8,216.63 L320.8,219.75 L321.8,218.1 L322.8,217.33 L323.8,217.06 L324.8,220.59 L325.8,218.14 L326.8,214.83 L327.8,219.54 L328.8,216.74 L329.8,217.4 L330.8,216.27 L331.8,217.88 L332.8,217.4 L333.8,216.21 L334.8,219.69 L335.8,216.76 L336.8,221.08 L337.8,216.76 L338.8,221.52 L339.8,221.91 L340.8,220.28 L341.8,221.79 L342.8,219.25 L343.8,222.42 L344.8,220.77 L345.8,219.84 L346.8,223.46 L347.8,219.04 L348.8,217.84 L349.8,219.73 L350.8,215.75 L351.8,216.51 L352.8,212.49 L353.8,215.49 L354.8,211.02 L355.8,209.48 L356.8,214.74 L357.8,209.64 L358.8,213.99 L359.8,213.93 L360.8,211.37 L361.8,207.51 L362.8,207.51 L363.8,208.57 L364.8,210.28 L365.8,212.25 L366.8,215.01 L367.8,211.97 L368.8,211.32 L369.8,214.48 L370.8,212.57 L371.8,212.89 L372.8,216.07 L373.8,217.19 L374.8,213.7 L375.8,216.3 L376.8,218.1 L377.8,218.75 L378.8,216.75 L379.8,220.06 L380.8,215.9 L381.8,218.05 L382.8,217.26 L383.8,216.78 L384.8,213.34 L385.8,209.84 L386.8,208.4" fill="none" stroke="#2020f0" stroke-width="1.1" stroke-linejoin="round" />
</g>
<line x1="325.1" y1="178.9" x2="325.1" y2="171.45" stroke="#f39a1e" stroke-width="1.3" />
<line x1="325.1" y1="171.45" x2="325.1" y2="164" stroke="#1a2ee0" stroke-width="1.3" />
<line x1="325.1" y1="178.9" x2="325.1" y2="186.15" stroke="#f39a1e" stroke-width="1.3" />
<line x1="325.1" y1="186.15" x2="325.1" y2="193.4" stroke="#e8202a" stroke-width="1.3" />
<line x1="325.1" y1="178.9" x2="319.05" y2="177.15" stroke="#f39a1e" stroke-width="1.3" />
<line x1="319.05" y1="177.15" x2="313" y2="175.4" stroke="#e8202a" stroke-width="1.3" />
<line x1="325.1" y1="178.9" x2="319.3" y2="179.75" stroke="#f39a1e" stroke-width="1.3" />
<line x1="319.3" y1="179.75" x2="313.5" y2="180.6" stroke="#e8202a" stroke-width="1.3" />
<line x1="325.1" y1="178.9" x2="330.55" y2="176.9" stroke="#f39a1e" stroke-width="1.3" />
<line x1="330.55" y1="176.9" x2="336" y2="174.9" stroke="#e8202a" stroke-width="1.3" />
<line x1="325.1" y1="178.9" x2="329.7" y2="179.95" stroke="#f39a1e" stroke-width="1.3" />
<line x1="329.7" y1="179.95" x2="334.3" y2="181" stroke="#e8202a" stroke-width="1.3" />
<circle cx="325.1" cy="164" r="2.2" fill="url(#gb)"/>
<circle cx="325.1" cy="193.4" r="2.2" fill="url(#gr)"/>
<circle cx="313" cy="175.4" r="2.2" fill="url(#gr)"/>
<circle cx="313.5" cy="180.6" r="2.2" fill="url(#gr)"/>
<circle cx="336" cy="174.9" r="2.2" fill="url(#gr)"/>
<circle cx="334.3" cy="181" r="2.2" fill="url(#gr)"/>
<circle cx="325.1" cy="178.9" r="3.9" fill="url(#og)" stroke="#d9780a" stroke-width="0.5"/>
<text x="352" y="176.7" font-size="9.8" font-weight="bold" fill="#1a2ef0" stroke="#1a2ef0" stroke-width="0.18">AlO<tspan font-size="6.8" dy="1.8">6</tspan></text>
<path d="M357.49,181 L361.12,181 L361.12,186.5 L363.2,186.5 L359.3,191 L355.4,186.5 L357.49,186.5 Z" fill="#1a2ef0"/>
<line x1="330.3" y1="142.4" x2="345.4" y2="142.4" stroke="#555" stroke-width="1.4" />
<text x="347.5" y="144.4" font-size="7.4" text-anchor="start" font-weight="bold" fill="#000" textLength="37" lengthAdjust="spacingAndGlyphs" stroke="#000" stroke-width="0.18">Commercial</text>
<line x1="330.3" y1="151.4" x2="345.4" y2="151.4" stroke="#f25a5a" stroke-width="1.4" />
<text x="347.5" y="153.4" font-size="7.4" text-anchor="start" font-weight="bold" fill="#000" textLength="37" lengthAdjust="spacingAndGlyphs" stroke="#000" stroke-width="0.18">AlN_C-S(5h)</text>
<line x1="330.3" y1="160.4" x2="345.4" y2="160.4" stroke="#4646f0" stroke-width="1.4" />
<text x="347.5" y="162.4" font-size="7.4" text-anchor="start" font-weight="bold" fill="#000" textLength="37" lengthAdjust="spacingAndGlyphs" stroke="#000" stroke-width="0.18">AlN_C-L(5h)</text>
<g clip-path="url(#cf)">
<path d="M436.7,227.85 L436.95,227.83 L437.2,227.81 L437.45,227.79 L437.7,227.77 L437.95,227.74 L438.2,227.72 L438.45,227.7 L438.71,227.67 L438.96,227.65 L439.21,227.62 L439.46,227.59 L439.71,227.57 L439.96,227.54 L440.21,227.51 L440.46,227.49 L440.71,227.46 L440.96,227.43 L441.21,227.4 L441.46,227.37 L441.71,227.34 L441.96,227.3 L442.21,227.27 L442.47,227.24 L442.72,227.2 L442.97,227.17 L443.22,227.13 L443.47,227.1 L443.72,227.06 L443.97,227.02 L444.22,226.98 L444.47,226.94 L444.72,226.9 L444.97,226.86 L445.22,226.82 L445.47,226.78 L445.72,226.73 L445.97,226.68 L446.23,226.64 L446.48,226.59 L446.73,226.54 L446.98,226.49 L447.23,226.44 L447.48,226.38 L447.73,226.33 L447.98,226.27 L448.23,226.21 L448.48,226.15 L448.73,226.09 L448.98,226.03 L449.23,225.96 L449.48,225.89 L449.73,225.82 L449.98,225.75 L450.24,225.68 L450.49,225.6 L450.74,225.52 L450.99,225.44 L451.24,225.36 L451.49,225.27 L451.74,225.18 L451.99,225.08 L452.24,224.98 L452.49,224.88 L452.74,224.77 L452.99,224.66 L453.24,224.55 L453.49,224.43 L453.74,224.3 L454,224.17 L454.25,224.03 L454.5,223.89 L454.75,223.74 L455,223.58 L455.25,223.42 L455.5,223.24 L455.75,223.06 L456,222.87 L456.25,222.67 L456.5,222.45 L456.75,222.23 L457,222 L457.25,221.75 L457.5,221.49 L457.76,221.21 L458.01,220.92 L458.26,220.61 L458.51,220.29 L458.76,219.95 L459.01,219.59 L459.26,219.22 L459.51,218.82 L459.76,218.4 L460.01,217.95 L460.26,217.49 L460.51,217 L460.76,216.48 L461.01,215.94 L461.26,215.37 L461.52,214.78 L461.77,214.15 L462.02,213.49 L462.27,212.81 L462.52,212.09 L462.77,211.33 L463.02,210.55 L463.27,209.73 L463.52,208.87 L463.77,207.98 L464.02,207.05 L464.27,206.09 L464.52,205.09 L464.77,204.05 L465.02,202.98 L465.28,201.87 L465.53,200.72 L465.78,199.54 L466.03,198.32 L466.28,197.07 L466.53,195.78 L466.78,194.46 L467.03,193.11 L467.28,191.73 L467.53,190.32 L467.78,188.89 L468.03,187.43 L468.28,185.95 L468.53,184.46 L468.78,182.96 L469.04,181.44 L469.29,179.92 L469.54,178.4 L469.79,176.89 L470.04,175.39 L470.29,173.91 L470.54,172.46 L470.79,171.04 L471.04,169.66 L471.29,168.33 L471.54,167.05 L471.79,165.85 L472.04,164.71 L472.29,163.67 L472.54,162.71 L472.79,161.86 L473.05,161.11 L473.3,160.48 L473.55,159.97 L473.8,159.59 L474.05,159.33 L474.3,159.21 L474.55,159.22 L474.8,159.37 L475.05,159.65 L475.3,160.06 L475.55,160.59 L475.8,161.25 L476.05,162.01 L476.3,162.89 L476.55,163.86 L476.81,164.93 L477.06,166.07 L477.31,167.29 L477.56,168.58 L477.81,169.92 L478.06,171.31 L478.31,172.74 L478.56,174.2 L478.81,175.68 L479.06,177.18 L479.31,178.7 L479.56,180.22 L479.81,181.73 L480.06,183.25 L480.31,184.75 L480.57,186.24 L480.82,187.71 L481.07,189.17 L481.32,190.6 L481.57,192 L481.82,193.37 L482.07,194.72 L482.32,196.03 L482.57,197.31 L482.82,198.56 L483.07,199.77 L483.32,200.95 L483.57,202.09 L483.82,203.19 L484.07,204.26 L484.33,205.29 L484.58,206.28 L484.83,207.24 L485.08,208.16 L485.33,209.04 L485.58,209.89 L485.83,210.7 L486.08,211.48 L486.33,212.23 L486.58,212.94 L486.83,213.62 L487.08,214.27 L487.33,214.9 L487.58,215.49 L487.83,216.05 L488.09,216.59 L488.34,217.1 L488.59,217.58 L488.84,218.04 L489.09,218.48 L489.34,218.9 L489.59,219.29 L489.84,219.66 L490.09,220.02 L490.34,220.36 L490.59,220.68 L490.84,220.98 L491.09,221.27 L491.34,221.54 L491.59,221.8 L491.85,222.04 L492.1,222.28 L492.35,222.5 L492.6,222.71 L492.85,222.91 L493.1,223.1 L493.35,223.28 L493.6,223.45 L493.85,223.61 L494.1,223.77 L494.35,223.92 L494.6,224.06 L494.85,224.2 L495.1,224.33 L495.35,224.45 L495.61,224.57 L495.86,224.69 L496.11,224.8 L496.36,224.9 L496.61,225 L496.86,225.1 L497.11,225.19 L497.36,225.28 L497.61,225.37 L497.86,225.46 L498.11,225.54 L498.36,225.62 L498.61,225.69 L498.86,225.77 L499.11,225.84 L499.36,225.91 L499.62,225.97 L499.87,226.04 L500.12,226.1 L500.37,226.16 L500.62,226.22 L500.87,226.28 L501.12,226.34 L501.37,226.39 L501.62,226.45 L501.87,226.5 L502.12,226.55 L502.37,226.6 L502.62,226.65 L502.87,226.69 L503.12,226.74 L503.38,226.78 L503.63,226.83 L503.88,226.87 L504.13,226.91 L504.38,226.95 L504.63,226.99 L504.88,227.03 L505.13,227.07 L505.38,227.11 L505.63,227.14 L505.88,227.18 L506.13,227.21 L506.38,227.25 L506.63,227.28 L506.88,227.31 L507.14,227.34 L507.39,227.37 L507.64,227.4 L507.89,227.43 L508.14,227.46 L508.39,227.49 L508.64,227.52 L508.89,227.55 L509.14,227.57 L509.39,227.6 L509.64,227.63 L509.89,227.65 L510.14,227.68 L510.39,227.7 L510.64,227.72 L510.9,227.75 L511.15,227.77 L511.4,227.79 L511.65,227.81 L511.9,227.84 L512.15,227.86 L512.4,227.88 L512.65,227.9 L512.9,227.92 L513.15,227.94 L513.4,227.96 L513.65,227.98 L513.9,227.99 L514.15,228.01 L514.4,228.03 L514.66,228.05 L514.91,228.07 L515.16,228.08 L515.41,228.1 L515.66,228.12 L515.91,228.13 L516.16,228.15 L516.41,228.16 L516.66,228.18 L516.91,228.19 L517.16,228.21 L517.41,228.22 L517.66,228.24 L517.91,228.25 L518.16,228.27 L518.42,228.28 L518.67,228.29 L518.92,228.31 L519.17,228.32 L519.42,228.33 L519.67,228.34 L519.92,228.36 L520.17,228.37 L520.42,228.38 L520.67,228.39 L520.92,228.4 L521.17,228.41 L521.42,228.43 L521.67,228.44 L521.92,228.45 L522.17,228.46 L522.43,228.47 L522.68,228.48 L522.93,228.49 L523.18,228.5 L523.43,228.51 L523.68,228.52 L523.93,228.53 L524.18,228.54 L524.43,228.55 L524.68,228.56 L524.93,228.57 L525.18,228.58 L525.43,228.58 L525.68,228.59 L525.93,228.6 L526.19,228.61 L526.44,228.62 L526.69,228.63 L526.94,228.64 L527.19,228.64 L527.44,228.65 L527.69,228.66 L527.94,228.67 L528.19,228.67 L528.44,228.68 L528.69,228.69 L528.94,228.7 L529.19,228.7 L529.44,228.71 L529.69,228.72 L529.95,228.72 L530.2,228.73 L530.45,228.74 L530.7,228.75 L530.95,228.75 L531.2,228.76 L531.45,228.76 L531.7,228.77 L531.7,229.5 L436.7,229.5 Z" fill="#f9c2c4" stroke="none"/>
<path d="M436.7,227.85 L436.95,227.83 L437.2,227.81 L437.45,227.79 L437.7,227.77 L437.95,227.74 L438.2,227.72 L438.45,227.7 L438.71,227.67 L438.96,227.65 L439.21,227.62 L439.46,227.59 L439.71,227.57 L439.96,227.54 L440.21,227.51 L440.46,227.49 L440.71,227.46 L440.96,227.43 L441.21,227.4 L441.46,227.37 L441.71,227.34 L441.96,227.3 L442.21,227.27 L442.47,227.24 L442.72,227.2 L442.97,227.17 L443.22,227.13 L443.47,227.1 L443.72,227.06 L443.97,227.02 L444.22,226.98 L444.47,226.94 L444.72,226.9 L444.97,226.86 L445.22,226.82 L445.47,226.78 L445.72,226.73 L445.97,226.68 L446.23,226.64 L446.48,226.59 L446.73,226.54 L446.98,226.49 L447.23,226.44 L447.48,226.38 L447.73,226.33 L447.98,226.27 L448.23,226.21 L448.48,226.15 L448.73,226.09 L448.98,226.03 L449.23,225.96 L449.48,225.89 L449.73,225.82 L449.98,225.75 L450.24,225.68 L450.49,225.6 L450.74,225.52 L450.99,225.44 L451.24,225.36 L451.49,225.27 L451.74,225.18 L451.99,225.08 L452.24,224.98 L452.49,224.88 L452.74,224.77 L452.99,224.66 L453.24,224.55 L453.49,224.43 L453.74,224.3 L454,224.17 L454.25,224.03 L454.5,223.89 L454.75,223.74 L455,223.58 L455.25,223.42 L455.5,223.24 L455.75,223.06 L456,222.87 L456.25,222.67 L456.5,222.45 L456.75,222.23 L457,222 L457.25,221.75 L457.5,221.49 L457.76,221.21 L458.01,220.92 L458.26,220.61 L458.51,220.29 L458.76,219.95 L459.01,219.59 L459.26,219.22 L459.51,218.82 L459.76,218.4 L460.01,217.95 L460.26,217.49 L460.51,217 L460.76,216.48 L461.01,215.94 L461.26,215.37 L461.52,214.78 L461.77,214.15 L462.02,213.49 L462.27,212.81 L462.52,212.09 L462.77,211.33 L463.02,210.55 L463.27,209.73 L463.52,208.87 L463.77,207.98 L464.02,207.05 L464.27,206.09 L464.52,205.09 L464.77,204.05 L465.02,202.98 L465.28,201.87 L465.53,200.72 L465.78,199.54 L466.03,198.32 L466.28,197.07 L466.53,195.78 L466.78,194.46 L467.03,193.11 L467.28,191.73 L467.53,190.32 L467.78,188.89 L468.03,187.43 L468.28,185.95 L468.53,184.46 L468.78,182.96 L469.04,181.44 L469.29,179.92 L469.54,178.4 L469.79,176.89 L470.04,175.39 L470.29,173.91 L470.54,172.46 L470.79,171.04 L471.04,169.66 L471.29,168.33 L471.54,167.05 L471.79,165.85 L472.04,164.71 L472.29,163.67 L472.54,162.71 L472.79,161.86 L473.05,161.11 L473.3,160.48 L473.55,159.97 L473.8,159.59 L474.05,159.33 L474.3,159.21 L474.55,159.22 L474.8,159.37 L475.05,159.65 L475.3,160.06 L475.55,160.59 L475.8,161.25 L476.05,162.01 L476.3,162.89 L476.55,163.86 L476.81,164.93 L477.06,166.07 L477.31,167.29 L477.56,168.58 L477.81,169.92 L478.06,171.31 L478.31,172.74 L478.56,174.2 L478.81,175.68 L479.06,177.18 L479.31,178.7 L479.56,180.22 L479.81,181.73 L480.06,183.25 L480.31,184.75 L480.57,186.24 L480.82,187.71 L481.07,189.17 L481.32,190.6 L481.57,192 L481.82,193.37 L482.07,194.72 L482.32,196.03 L482.57,197.31 L482.82,198.56 L483.07,199.77 L483.32,200.95 L483.57,202.09 L483.82,203.19 L484.07,204.26 L484.33,205.29 L484.58,206.28 L484.83,207.24 L485.08,208.16 L485.33,209.04 L485.58,209.89 L485.83,210.7 L486.08,211.48 L486.33,212.23 L486.58,212.94 L486.83,213.62 L487.08,214.27 L487.33,214.9 L487.58,215.49 L487.83,216.05 L488.09,216.59 L488.34,217.1 L488.59,217.58 L488.84,218.04 L489.09,218.48 L489.34,218.9 L489.59,219.29 L489.84,219.66 L490.09,220.02 L490.34,220.36 L490.59,220.68 L490.84,220.98 L491.09,221.27 L491.34,221.54 L491.59,221.8 L491.85,222.04 L492.1,222.28 L492.35,222.5 L492.6,222.71 L492.85,222.91 L493.1,223.1 L493.35,223.28 L493.6,223.45 L493.85,223.61 L494.1,223.77 L494.35,223.92 L494.6,224.06 L494.85,224.2 L495.1,224.33 L495.35,224.45 L495.61,224.57 L495.86,224.69 L496.11,224.8 L496.36,224.9 L496.61,225 L496.86,225.1 L497.11,225.19 L497.36,225.28 L497.61,225.37 L497.86,225.46 L498.11,225.54 L498.36,225.62 L498.61,225.69 L498.86,225.77 L499.11,225.84 L499.36,225.91 L499.62,225.97 L499.87,226.04 L500.12,226.1 L500.37,226.16 L500.62,226.22 L500.87,226.28 L501.12,226.34 L501.37,226.39 L501.62,226.45 L501.87,226.5 L502.12,226.55 L502.37,226.6 L502.62,226.65 L502.87,226.69 L503.12,226.74 L503.38,226.78 L503.63,226.83 L503.88,226.87 L504.13,226.91 L504.38,226.95 L504.63,226.99 L504.88,227.03 L505.13,227.07 L505.38,227.11 L505.63,227.14 L505.88,227.18 L506.13,227.21 L506.38,227.25 L506.63,227.28 L506.88,227.31 L507.14,227.34 L507.39,227.37 L507.64,227.4 L507.89,227.43 L508.14,227.46 L508.39,227.49 L508.64,227.52 L508.89,227.55 L509.14,227.57 L509.39,227.6 L509.64,227.63 L509.89,227.65 L510.14,227.68 L510.39,227.7 L510.64,227.72 L510.9,227.75 L511.15,227.77 L511.4,227.79 L511.65,227.81 L511.9,227.84 L512.15,227.86 L512.4,227.88 L512.65,227.9 L512.9,227.92 L513.15,227.94 L513.4,227.96 L513.65,227.98 L513.9,227.99 L514.15,228.01 L514.4,228.03 L514.66,228.05 L514.91,228.07 L515.16,228.08 L515.41,228.1 L515.66,228.12 L515.91,228.13 L516.16,228.15 L516.41,228.16 L516.66,228.18 L516.91,228.19 L517.16,228.21 L517.41,228.22 L517.66,228.24 L517.91,228.25 L518.16,228.27 L518.42,228.28 L518.67,228.29 L518.92,228.31 L519.17,228.32 L519.42,228.33 L519.67,228.34 L519.92,228.36 L520.17,228.37 L520.42,228.38 L520.67,228.39 L520.92,228.4 L521.17,228.41 L521.42,228.43 L521.67,228.44 L521.92,228.45 L522.17,228.46 L522.43,228.47 L522.68,228.48 L522.93,228.49 L523.18,228.5 L523.43,228.51 L523.68,228.52 L523.93,228.53 L524.18,228.54 L524.43,228.55 L524.68,228.56 L524.93,228.57 L525.18,228.58 L525.43,228.58 L525.68,228.59 L525.93,228.6 L526.19,228.61 L526.44,228.62 L526.69,228.63 L526.94,228.64 L527.19,228.64 L527.44,228.65 L527.69,228.66 L527.94,228.67 L528.19,228.67 L528.44,228.68 L528.69,228.69 L528.94,228.7 L529.19,228.7 L529.44,228.71 L529.69,228.72 L529.95,228.72 L530.2,228.73 L530.45,228.74 L530.7,228.75 L530.95,228.75 L531.2,228.76 L531.45,228.76 L531.7,228.77" fill="none" stroke="#f04050" stroke-width="0.8" stroke-linejoin="round" />
<path d="M436.7,229.49 L436.95,229.49 L437.2,229.49 L437.45,229.49 L437.7,229.49 L437.95,229.49 L438.2,229.49 L438.45,229.49 L438.71,229.49 L438.96,229.49 L439.21,229.49 L439.46,229.49 L439.71,229.49 L439.96,229.49 L440.21,229.49 L440.46,229.49 L440.71,229.49 L440.96,229.49 L441.21,229.49 L441.46,229.49 L441.71,229.49 L441.96,229.49 L442.21,229.48 L442.47,229.48 L442.72,229.48 L442.97,229.48 L443.22,229.48 L443.47,229.48 L443.72,229.48 L443.97,229.48 L444.22,229.48 L444.47,229.48 L444.72,229.48 L444.97,229.48 L445.22,229.48 L445.47,229.48 L445.72,229.48 L445.97,229.48 L446.23,229.48 L446.48,229.48 L446.73,229.48 L446.98,229.48 L447.23,229.48 L447.48,229.48 L447.73,229.48 L447.98,229.48 L448.23,229.48 L448.48,229.48 L448.73,229.48 L448.98,229.48 L449.23,229.48 L449.48,229.48 L449.73,229.48 L449.98,229.48 L450.24,229.48 L450.49,229.48 L450.74,229.48 L450.99,229.48 L451.24,229.48 L451.49,229.48 L451.74,229.47 L451.99,229.47 L452.24,229.47 L452.49,229.47 L452.74,229.47 L452.99,229.47 L453.24,229.47 L453.49,229.47 L453.74,229.47 L454,229.47 L454.25,229.47 L454.5,229.47 L454.75,229.47 L455,229.47 L455.25,229.47 L455.5,229.47 L455.75,229.47 L456,229.47 L456.25,229.47 L456.5,229.47 L456.75,229.46 L457,229.46 L457.25,229.46 L457.5,229.46 L457.76,229.46 L458.01,229.46 L458.26,229.46 L458.51,229.46 L458.76,229.46 L459.01,229.46 L459.26,229.46 L459.51,229.46 L459.76,229.46 L460.01,229.45 L460.26,229.45 L460.51,229.45 L460.76,229.45 L461.01,229.45 L461.26,229.45 L461.52,229.45 L461.77,229.45 L462.02,229.45 L462.27,229.45 L462.52,229.44 L462.77,229.44 L463.02,229.44 L463.27,229.44 L463.52,229.44 L463.77,229.44 L464.02,229.44 L464.27,229.43 L464.52,229.43 L464.77,229.43 L465.02,229.43 L465.28,229.43 L465.53,229.42 L465.78,229.42 L466.03,229.42 L466.28,229.42 L466.53,229.41 L466.78,229.41 L467.03,229.41 L467.28,229.4 L467.53,229.4 L467.78,229.39 L468.03,229.39 L468.28,229.38 L468.53,229.38 L468.78,229.37 L469.04,229.36 L469.29,229.35 L469.54,229.34 L469.79,229.33 L470.04,229.32 L470.29,229.3 L470.54,229.29 L470.79,229.27 L471.04,229.25 L471.29,229.22 L471.54,229.2 L471.79,229.17 L472.04,229.13 L472.29,229.1 L472.54,229.06 L472.79,229.01 L473.05,228.96 L473.3,228.9 L473.55,228.84 L473.8,228.77 L474.05,228.7 L474.3,228.61 L474.55,228.52 L474.8,228.43 L475.05,228.32 L475.3,228.21 L475.55,228.09 L475.8,227.95 L476.05,227.82 L476.3,227.67 L476.55,227.51 L476.81,227.35 L477.06,227.18 L477.31,227 L477.56,226.81 L477.81,226.61 L478.06,226.41 L478.31,226.21 L478.56,226 L478.81,225.79 L479.06,225.58 L479.31,225.36 L479.56,225.15 L479.81,224.94 L480.06,224.73 L480.31,224.53 L480.57,224.33 L480.82,224.15 L481.07,223.97 L481.32,223.81 L481.57,223.65 L481.82,223.52 L482.07,223.4 L482.32,223.3 L482.57,223.22 L482.82,223.16 L483.07,223.12 L483.32,223.1 L483.57,223.11 L483.82,223.13 L484.07,223.18 L484.33,223.25 L484.58,223.34 L484.83,223.44 L485.08,223.57 L485.33,223.71 L485.58,223.87 L485.83,224.04 L486.08,224.22 L486.33,224.41 L486.58,224.6 L486.83,224.81 L487.08,225.02 L487.33,225.23 L487.58,225.44 L487.83,225.66 L488.09,225.87 L488.34,226.08 L488.59,226.29 L488.84,226.49 L489.09,226.69 L489.34,226.88 L489.59,227.07 L489.84,227.24 L490.09,227.41 L490.34,227.57 L490.59,227.73 L490.84,227.87 L491.09,228.01 L491.34,228.13 L491.59,228.25 L491.85,228.36 L492.1,228.46 L492.35,228.56 L492.6,228.65 L492.85,228.72 L493.1,228.8 L493.35,228.86 L493.6,228.92 L493.85,228.98 L494.1,229.03 L494.35,229.07 L494.6,229.11 L494.85,229.15 L495.1,229.18 L495.35,229.21 L495.61,229.23 L495.86,229.26 L496.11,229.28 L496.36,229.29 L496.61,229.31 L496.86,229.32 L497.11,229.34 L497.36,229.35 L497.61,229.36 L497.86,229.36 L498.11,229.37 L498.36,229.38 L498.61,229.39 L498.86,229.39 L499.11,229.4 L499.36,229.4 L499.62,229.4 L499.87,229.41 L500.12,229.41 L500.37,229.41 L500.62,229.42 L500.87,229.42 L501.12,229.42 L501.37,229.42 L501.62,229.43 L501.87,229.43 L502.12,229.43 L502.37,229.43 L502.62,229.43 L502.87,229.44 L503.12,229.44 L503.38,229.44 L503.63,229.44 L503.88,229.44 L504.13,229.44 L504.38,229.44 L504.63,229.45 L504.88,229.45 L505.13,229.45 L505.38,229.45 L505.63,229.45 L505.88,229.45 L506.13,229.45 L506.38,229.45 L506.63,229.45 L506.88,229.46 L507.14,229.46 L507.39,229.46 L507.64,229.46 L507.89,229.46 L508.14,229.46 L508.39,229.46 L508.64,229.46 L508.89,229.46 L509.14,229.46 L509.39,229.46 L509.64,229.46 L509.89,229.46 L510.14,229.47 L510.39,229.47 L510.64,229.47 L510.9,229.47 L511.15,229.47 L511.4,229.47 L511.65,229.47 L511.9,229.47 L512.15,229.47 L512.4,229.47 L512.65,229.47 L512.9,229.47 L513.15,229.47 L513.4,229.47 L513.65,229.47 L513.9,229.47 L514.15,229.47 L514.4,229.47 L514.66,229.47 L514.91,229.47 L515.16,229.47 L515.41,229.48 L515.66,229.48 L515.91,229.48 L516.16,229.48 L516.41,229.48 L516.66,229.48 L516.91,229.48 L517.16,229.48 L517.41,229.48 L517.66,229.48 L517.91,229.48 L518.16,229.48 L518.42,229.48 L518.67,229.48 L518.92,229.48 L519.17,229.48 L519.42,229.48 L519.67,229.48 L519.92,229.48 L520.17,229.48 L520.42,229.48 L520.67,229.48 L520.92,229.48 L521.17,229.48 L521.42,229.48 L521.67,229.48 L521.92,229.48 L522.17,229.48 L522.43,229.48 L522.68,229.48 L522.93,229.48 L523.18,229.48 L523.43,229.48 L523.68,229.48 L523.93,229.48 L524.18,229.48 L524.43,229.48 L524.68,229.49 L524.93,229.49 L525.18,229.49 L525.43,229.49 L525.68,229.49 L525.93,229.49 L526.19,229.49 L526.44,229.49 L526.69,229.49 L526.94,229.49 L527.19,229.49 L527.44,229.49 L527.69,229.49 L527.94,229.49 L528.19,229.49 L528.44,229.49 L528.69,229.49 L528.94,229.49 L529.19,229.49 L529.44,229.49 L529.69,229.49 L529.95,229.49 L530.2,229.49 L530.45,229.49 L530.7,229.49 L530.95,229.49 L531.2,229.49 L531.45,229.49 L531.7,229.49 L531.7,229.5 L436.7,229.5 Z" fill="#b48ad8" fill-opacity="0.75" stroke="none"/>
<path d="M436.7,229.49 L436.95,229.49 L437.2,229.49 L437.45,229.49 L437.7,229.49 L437.95,229.49 L438.2,229.49 L438.45,229.49 L438.71,229.49 L438.96,229.49 L439.21,229.49 L439.46,229.49 L439.71,229.49 L439.96,229.49 L440.21,229.49 L440.46,229.49 L440.71,229.49 L440.96,229.49 L441.21,229.49 L441.46,229.49 L441.71,229.49 L441.96,229.49 L442.21,229.48 L442.47,229.48 L442.72,229.48 L442.97,229.48 L443.22,229.48 L443.47,229.48 L443.72,229.48 L443.97,229.48 L444.22,229.48 L444.47,229.48 L444.72,229.48 L444.97,229.48 L445.22,229.48 L445.47,229.48 L445.72,229.48 L445.97,229.48 L446.23,229.48 L446.48,229.48 L446.73,229.48 L446.98,229.48 L447.23,229.48 L447.48,229.48 L447.73,229.48 L447.98,229.48 L448.23,229.48 L448.48,229.48 L448.73,229.48 L448.98,229.48 L449.23,229.48 L449.48,229.48 L449.73,229.48 L449.98,229.48 L450.24,229.48 L450.49,229.48 L450.74,229.48 L450.99,229.48 L451.24,229.48 L451.49,229.48 L451.74,229.47 L451.99,229.47 L452.24,229.47 L452.49,229.47 L452.74,229.47 L452.99,229.47 L453.24,229.47 L453.49,229.47 L453.74,229.47 L454,229.47 L454.25,229.47 L454.5,229.47 L454.75,229.47 L455,229.47 L455.25,229.47 L455.5,229.47 L455.75,229.47 L456,229.47 L456.25,229.47 L456.5,229.47 L456.75,229.46 L457,229.46 L457.25,229.46 L457.5,229.46 L457.76,229.46 L458.01,229.46 L458.26,229.46 L458.51,229.46 L458.76,229.46 L459.01,229.46 L459.26,229.46 L459.51,229.46 L459.76,229.46 L460.01,229.45 L460.26,229.45 L460.51,229.45 L460.76,229.45 L461.01,229.45 L461.26,229.45 L461.52,229.45 L461.77,229.45 L462.02,229.45 L462.27,229.45 L462.52,229.44 L462.77,229.44 L463.02,229.44 L463.27,229.44 L463.52,229.44 L463.77,229.44 L464.02,229.44 L464.27,229.43 L464.52,229.43 L464.77,229.43 L465.02,229.43 L465.28,229.43 L465.53,229.42 L465.78,229.42 L466.03,229.42 L466.28,229.42 L466.53,229.41 L466.78,229.41 L467.03,229.41 L467.28,229.4 L467.53,229.4 L467.78,229.39 L468.03,229.39 L468.28,229.38 L468.53,229.38 L468.78,229.37 L469.04,229.36 L469.29,229.35 L469.54,229.34 L469.79,229.33 L470.04,229.32 L470.29,229.3 L470.54,229.29 L470.79,229.27 L471.04,229.25 L471.29,229.22 L471.54,229.2 L471.79,229.17 L472.04,229.13 L472.29,229.1 L472.54,229.06 L472.79,229.01 L473.05,228.96 L473.3,228.9 L473.55,228.84 L473.8,228.77 L474.05,228.7 L474.3,228.61 L474.55,228.52 L474.8,228.43 L475.05,228.32 L475.3,228.21 L475.55,228.09 L475.8,227.95 L476.05,227.82 L476.3,227.67 L476.55,227.51 L476.81,227.35 L477.06,227.18 L477.31,227 L477.56,226.81 L477.81,226.61 L478.06,226.41 L478.31,226.21 L478.56,226 L478.81,225.79 L479.06,225.58 L479.31,225.36 L479.56,225.15 L479.81,224.94 L480.06,224.73 L480.31,224.53 L480.57,224.33 L480.82,224.15 L481.07,223.97 L481.32,223.81 L481.57,223.65 L481.82,223.52 L482.07,223.4 L482.32,223.3 L482.57,223.22 L482.82,223.16 L483.07,223.12 L483.32,223.1 L483.57,223.11 L483.82,223.13 L484.07,223.18 L484.33,223.25 L484.58,223.34 L484.83,223.44 L485.08,223.57 L485.33,223.71 L485.58,223.87 L485.83,224.04 L486.08,224.22 L486.33,224.41 L486.58,224.6 L486.83,224.81 L487.08,225.02 L487.33,225.23 L487.58,225.44 L487.83,225.66 L488.09,225.87 L488.34,226.08 L488.59,226.29 L488.84,226.49 L489.09,226.69 L489.34,226.88 L489.59,227.07 L489.84,227.24 L490.09,227.41 L490.34,227.57 L490.59,227.73 L490.84,227.87 L491.09,228.01 L491.34,228.13 L491.59,228.25 L491.85,228.36 L492.1,228.46 L492.35,228.56 L492.6,228.65 L492.85,228.72 L493.1,228.8 L493.35,228.86 L493.6,228.92 L493.85,228.98 L494.1,229.03 L494.35,229.07 L494.6,229.11 L494.85,229.15 L495.1,229.18 L495.35,229.21 L495.61,229.23 L495.86,229.26 L496.11,229.28 L496.36,229.29 L496.61,229.31 L496.86,229.32 L497.11,229.34 L497.36,229.35 L497.61,229.36 L497.86,229.36 L498.11,229.37 L498.36,229.38 L498.61,229.39 L498.86,229.39 L499.11,229.4 L499.36,229.4 L499.62,229.4 L499.87,229.41 L500.12,229.41 L500.37,229.41 L500.62,229.42 L500.87,229.42 L501.12,229.42 L501.37,229.42 L501.62,229.43 L501.87,229.43 L502.12,229.43 L502.37,229.43 L502.62,229.43 L502.87,229.44 L503.12,229.44 L503.38,229.44 L503.63,229.44 L503.88,229.44 L504.13,229.44 L504.38,229.44 L504.63,229.45 L504.88,229.45 L505.13,229.45 L505.38,229.45 L505.63,229.45 L505.88,229.45 L506.13,229.45 L506.38,229.45 L506.63,229.45 L506.88,229.46 L507.14,229.46 L507.39,229.46 L507.64,229.46 L507.89,229.46 L508.14,229.46 L508.39,229.46 L508.64,229.46 L508.89,229.46 L509.14,229.46 L509.39,229.46 L509.64,229.46 L509.89,229.46 L510.14,229.47 L510.39,229.47 L510.64,229.47 L510.9,229.47 L511.15,229.47 L511.4,229.47 L511.65,229.47 L511.9,229.47 L512.15,229.47 L512.4,229.47 L512.65,229.47 L512.9,229.47 L513.15,229.47 L513.4,229.47 L513.65,229.47 L513.9,229.47 L514.15,229.47 L514.4,229.47 L514.66,229.47 L514.91,229.47 L515.16,229.47 L515.41,229.48 L515.66,229.48 L515.91,229.48 L516.16,229.48 L516.41,229.48 L516.66,229.48 L516.91,229.48 L517.16,229.48 L517.41,229.48 L517.66,229.48 L517.91,229.48 L518.16,229.48 L518.42,229.48 L518.67,229.48 L518.92,229.48 L519.17,229.48 L519.42,229.48 L519.67,229.48 L519.92,229.48 L520.17,229.48 L520.42,229.48 L520.67,229.48 L520.92,229.48 L521.17,229.48 L521.42,229.48 L521.67,229.48 L521.92,229.48 L522.17,229.48 L522.43,229.48 L522.68,229.48 L522.93,229.48 L523.18,229.48 L523.43,229.48 L523.68,229.48 L523.93,229.48 L524.18,229.48 L524.43,229.48 L524.68,229.49 L524.93,229.49 L525.18,229.49 L525.43,229.49 L525.68,229.49 L525.93,229.49 L526.19,229.49 L526.44,229.49 L526.69,229.49 L526.94,229.49 L527.19,229.49 L527.44,229.49 L527.69,229.49 L527.94,229.49 L528.19,229.49 L528.44,229.49 L528.69,229.49 L528.94,229.49 L529.19,229.49 L529.44,229.49 L529.69,229.49 L529.95,229.49 L530.2,229.49 L530.45,229.49 L530.7,229.49 L530.95,229.49 L531.2,229.49 L531.45,229.49 L531.7,229.49" fill="none" stroke="#8a50e0" stroke-width="1" stroke-linejoin="round" />
<path d="M436.7,227.84 L436.95,227.82 L437.2,227.8 L437.45,227.78 L437.7,227.75 L437.95,227.73 L438.2,227.71 L438.45,227.68 L438.71,227.66 L438.96,227.63 L439.21,227.61 L439.46,227.58 L439.71,227.55 L439.96,227.53 L440.21,227.5 L440.46,227.47 L440.71,227.44 L440.96,227.41 L441.21,227.38 L441.46,227.35 L441.71,227.32 L441.96,227.29 L442.21,227.26 L442.47,227.22 L442.72,227.19 L442.97,227.15 L443.22,227.12 L443.47,227.08 L443.72,227.04 L443.97,227.01 L444.22,226.97 L444.47,226.93 L444.72,226.89 L444.97,226.84 L445.22,226.8 L445.47,226.76 L445.72,226.71 L445.97,226.67 L446.23,226.62 L446.48,226.57 L446.73,226.52 L446.98,226.47 L447.23,226.42 L447.48,226.36 L447.73,226.31 L447.98,226.25 L448.23,226.19 L448.48,226.13 L448.73,226.07 L448.98,226 L449.23,225.94 L449.48,225.87 L449.73,225.8 L449.98,225.73 L450.24,225.65 L450.49,225.58 L450.74,225.5 L450.99,225.42 L451.24,225.33 L451.49,225.24 L451.74,225.15 L451.99,225.06 L452.24,224.96 L452.49,224.85 L452.74,224.75 L452.99,224.64 L453.24,224.52 L453.49,224.4 L453.74,224.27 L454,224.14 L454.25,224 L454.5,223.86 L454.75,223.71 L455,223.55 L455.25,223.38 L455.5,223.21 L455.75,223.03 L456,222.84 L456.25,222.63 L456.5,222.42 L456.75,222.2 L457,221.96 L457.25,221.71 L457.5,221.45 L457.76,221.17 L458.01,220.88 L458.26,220.58 L458.51,220.25 L458.76,219.91 L459.01,219.55 L459.26,219.17 L459.51,218.77 L459.76,218.35 L460.01,217.91 L460.26,217.44 L460.51,216.95 L460.76,216.44 L461.01,215.89 L461.26,215.32 L461.52,214.73 L461.77,214.1 L462.02,213.44 L462.27,212.75 L462.52,212.03 L462.77,211.28 L463.02,210.49 L463.27,209.67 L463.52,208.81 L463.77,207.92 L464.02,206.99 L464.27,206.02 L464.52,205.02 L464.77,203.98 L465.02,202.91 L465.28,201.8 L465.53,200.65 L465.78,199.46 L466.03,198.24 L466.28,196.98 L466.53,195.69 L466.78,194.37 L467.03,193.02 L467.28,191.63 L467.53,190.22 L467.78,188.78 L468.03,187.32 L468.28,185.84 L468.53,184.34 L468.78,182.82 L469.04,181.3 L469.29,179.77 L469.54,178.25 L469.79,176.72 L470.04,175.21 L470.29,173.72 L470.54,172.25 L470.79,170.81 L471.04,169.4 L471.29,168.05 L471.54,166.75 L471.79,165.51 L472.04,164.35 L472.29,163.26 L472.54,162.27 L472.79,161.37 L473.05,160.57 L473.3,159.88 L473.55,159.31 L473.8,158.86 L474.05,158.53 L474.3,158.32 L474.55,158.25 L474.8,158.3 L475.05,158.47 L475.3,158.77 L475.55,159.18 L475.8,159.7 L476.05,160.33 L476.3,161.06 L476.55,161.87 L476.81,162.78 L477.06,163.75 L477.31,164.79 L477.56,165.89 L477.81,167.04 L478.06,168.22 L478.31,169.45 L478.56,170.7 L478.81,171.97 L479.06,173.26 L479.31,174.56 L479.56,175.87 L479.81,177.17 L480.06,178.48 L480.31,179.78 L480.57,181.07 L480.82,182.36 L481.07,183.64 L481.32,184.9 L481.57,186.15 L481.82,187.39 L482.07,188.62 L482.32,189.83 L482.57,191.03 L482.82,192.22 L483.07,193.39 L483.32,194.55 L483.57,195.69 L483.82,196.82 L484.07,197.94 L484.33,199.04 L484.58,200.12 L484.83,201.18 L485.08,202.23 L485.33,203.25 L485.58,204.26 L485.83,205.24 L486.08,206.2 L486.33,207.14 L486.58,208.05 L486.83,208.93 L487.08,209.79 L487.33,210.63 L487.58,211.43 L487.83,212.21 L488.09,212.96 L488.34,213.68 L488.59,214.37 L488.84,215.03 L489.09,215.67 L489.34,216.28 L489.59,216.85 L489.84,217.41 L490.09,217.93 L490.34,218.43 L490.59,218.9 L490.84,219.35 L491.09,219.77 L491.34,220.17 L491.59,220.55 L491.85,220.9 L492.1,221.24 L492.35,221.55 L492.6,221.85 L492.85,222.13 L493.1,222.39 L493.35,222.64 L493.6,222.87 L493.85,223.09 L494.1,223.3 L494.35,223.49 L494.6,223.67 L494.85,223.84 L495.1,224.01 L495.35,224.16 L495.61,224.3 L495.86,224.44 L496.11,224.57 L496.36,224.69 L496.61,224.81 L496.86,224.92 L497.11,225.03 L497.36,225.13 L497.61,225.23 L497.86,225.32 L498.11,225.41 L498.36,225.5 L498.61,225.58 L498.86,225.66 L499.11,225.73 L499.36,225.81 L499.62,225.88 L499.87,225.95 L500.12,226.01 L500.37,226.08 L500.62,226.14 L500.87,226.2 L501.12,226.26 L501.37,226.32 L501.62,226.37 L501.87,226.43 L502.12,226.48 L502.37,226.53 L502.62,226.58 L502.87,226.63 L503.12,226.68 L503.38,226.72 L503.63,226.77 L503.88,226.81 L504.13,226.85 L504.38,226.9 L504.63,226.94 L504.88,226.98 L505.13,227.02 L505.38,227.05 L505.63,227.09 L505.88,227.13 L506.13,227.16 L506.38,227.2 L506.63,227.23 L506.88,227.27 L507.14,227.3 L507.39,227.33 L507.64,227.36 L507.89,227.39 L508.14,227.42 L508.39,227.45 L508.64,227.48 L508.89,227.51 L509.14,227.54 L509.39,227.56 L509.64,227.59 L509.89,227.62 L510.14,227.64 L510.39,227.67 L510.64,227.69 L510.9,227.71 L511.15,227.74 L511.4,227.76 L511.65,227.78 L511.9,227.8 L512.15,227.83 L512.4,227.85 L512.65,227.87 L512.9,227.89 L513.15,227.91 L513.4,227.93 L513.65,227.95 L513.9,227.97 L514.15,227.99 L514.4,228 L514.66,228.02 L514.91,228.04 L515.16,228.06 L515.41,228.07 L515.66,228.09 L515.91,228.11 L516.16,228.12 L516.41,228.14 L516.66,228.16 L516.91,228.17 L517.16,228.19 L517.41,228.2 L517.66,228.22 L517.91,228.23 L518.16,228.24 L518.42,228.26 L518.67,228.27 L518.92,228.29 L519.17,228.3 L519.42,228.31 L519.67,228.32 L519.92,228.34 L520.17,228.35 L520.42,228.36 L520.67,228.37 L520.92,228.39 L521.17,228.4 L521.42,228.41 L521.67,228.42 L521.92,228.43 L522.17,228.44 L522.43,228.45 L522.68,228.46 L522.93,228.47 L523.18,228.48 L523.43,228.49 L523.68,228.5 L523.93,228.51 L524.18,228.52 L524.43,228.53 L524.68,228.54 L524.93,228.55 L525.18,228.56 L525.43,228.57 L525.68,228.58 L525.93,228.59 L526.19,228.6 L526.44,228.61 L526.69,228.61 L526.94,228.62 L527.19,228.63 L527.44,228.64 L527.69,228.65 L527.94,228.65 L528.19,228.66 L528.44,228.67 L528.69,228.68 L528.94,228.68 L529.19,228.69 L529.44,228.7 L529.69,228.71 L529.95,228.71 L530.2,228.72 L530.45,228.73 L530.7,228.73 L530.95,228.74 L531.2,228.75 L531.45,228.75 L531.7,228.76" fill="none" stroke="#111" stroke-width="0.9" stroke-linejoin="round" />
<circle cx="436.7" cy="227.84" r="0.55" fill="#000" stroke="none" stroke-width="0" />
<circle cx="438.08" cy="227.72" r="0.55" fill="#000" stroke="none" stroke-width="0" />
<circle cx="439.45" cy="227.58" r="0.55" fill="#000" stroke="none" stroke-width="0" />
<circle cx="440.83" cy="227.43" r="0.55" fill="#000" stroke="none" stroke-width="0" />
<circle cx="442.21" cy="227.26" r="0.55" fill="#000" stroke="none" stroke-width="0" />
<circle cx="443.58" cy="227.07" r="0.55" fill="#000" stroke="none" stroke-width="0" />
<circle cx="444.96" cy="226.85" r="0.55" fill="#000" stroke="none" stroke-width="0" />
<circle cx="446.34" cy="226.6" r="0.55" fill="#000" stroke="none" stroke-width="0" />
<circle cx="447.71" cy="226.31" r="0.55" fill="#000" stroke="none" stroke-width="0" />
<circle cx="449.09" cy="225.98" r="0.55" fill="#000" stroke="none" stroke-width="0" />
<circle cx="450.47" cy="225.58" r="0.55" fill="#000" stroke="none" stroke-width="0" />
<circle cx="451.84" cy="225.11" r="0.55" fill="#000" stroke="none" stroke-width="0" />
<circle cx="453.22" cy="224.53" r="0.55" fill="#000" stroke="none" stroke-width="0" />
<circle cx="454.6" cy="223.8" r="0.55" fill="#000" stroke="none" stroke-width="0" />
<circle cx="455.98" cy="222.85" r="0.55" fill="#000" stroke="none" stroke-width="0" />
<circle cx="457.35" cy="221.61" r="0.55" fill="#000" stroke="none" stroke-width="0" />
<circle cx="458.73" cy="219.95" r="0.55" fill="#000" stroke="none" stroke-width="0" />
<circle cx="460.11" cy="217.74" r="0.55" fill="#000" stroke="none" stroke-width="0" />
<circle cx="461.48" cy="214.81" r="0.55" fill="#000" stroke="none" stroke-width="0" />
<circle cx="462.86" cy="211" r="0.55" fill="#000" stroke="none" stroke-width="0" />
<circle cx="464.24" cy="206.17" r="0.55" fill="#000" stroke="none" stroke-width="0" />
<circle cx="465.61" cy="200.24" r="0.55" fill="#000" stroke="none" stroke-width="0" />
<circle cx="466.99" cy="193.23" r="0.55" fill="#000" stroke="none" stroke-width="0" />
<circle cx="468.37" cy="185.34" r="0.55" fill="#000" stroke="none" stroke-width="0" />
<circle cx="469.74" cy="176.99" r="0.55" fill="#000" stroke="none" stroke-width="0" />
<circle cx="471.12" cy="168.97" r="0.55" fill="#000" stroke="none" stroke-width="0" />
<circle cx="472.5" cy="162.45" r="0.55" fill="#000" stroke="none" stroke-width="0" />
<circle cx="473.87" cy="158.74" r="0.55" fill="#000" stroke="none" stroke-width="0" />
<circle cx="475.25" cy="158.7" r="0.55" fill="#000" stroke="none" stroke-width="0" />
<circle cx="476.63" cy="162.13" r="0.55" fill="#000" stroke="none" stroke-width="0" />
<circle cx="478" cy="167.96" r="0.55" fill="#000" stroke="none" stroke-width="0" />
<circle cx="479.38" cy="174.92" r="0.55" fill="#000" stroke="none" stroke-width="0" />
<circle cx="480.76" cy="182.06" r="0.55" fill="#000" stroke="none" stroke-width="0" />
<circle cx="482.13" cy="188.94" r="0.55" fill="#000" stroke="none" stroke-width="0" />
<circle cx="483.51" cy="195.41" r="0.55" fill="#000" stroke="none" stroke-width="0" />
<circle cx="484.89" cy="201.44" r="0.55" fill="#000" stroke="none" stroke-width="0" />
<circle cx="486.27" cy="206.89" r="0.55" fill="#000" stroke="none" stroke-width="0" />
<circle cx="487.64" cy="211.61" r="0.55" fill="#000" stroke="none" stroke-width="0" />
<circle cx="489.02" cy="215.5" r="0.55" fill="#000" stroke="none" stroke-width="0" />
<circle cx="490.4" cy="218.53" r="0.55" fill="#000" stroke="none" stroke-width="0" />
<circle cx="491.77" cy="220.8" r="0.55" fill="#000" stroke="none" stroke-width="0" />
<circle cx="493.15" cy="222.45" r="0.55" fill="#000" stroke="none" stroke-width="0" />
<circle cx="494.53" cy="223.62" r="0.55" fill="#000" stroke="none" stroke-width="0" />
<circle cx="495.9" cy="224.47" r="0.55" fill="#000" stroke="none" stroke-width="0" />
<circle cx="497.28" cy="225.1" r="0.55" fill="#000" stroke="none" stroke-width="0" />
<circle cx="498.66" cy="225.59" r="0.55" fill="#000" stroke="none" stroke-width="0" />
<circle cx="500.03" cy="225.99" r="0.55" fill="#000" stroke="none" stroke-width="0" />
<circle cx="501.41" cy="226.33" r="0.55" fill="#000" stroke="none" stroke-width="0" />
<circle cx="502.79" cy="226.61" r="0.55" fill="#000" stroke="none" stroke-width="0" />
<circle cx="504.16" cy="226.86" r="0.55" fill="#000" stroke="none" stroke-width="0" />
<circle cx="505.54" cy="227.08" r="0.55" fill="#000" stroke="none" stroke-width="0" />
<circle cx="506.92" cy="227.27" r="0.55" fill="#000" stroke="none" stroke-width="0" />
<circle cx="508.29" cy="227.44" r="0.55" fill="#000" stroke="none" stroke-width="0" />
<circle cx="509.67" cy="227.59" r="0.55" fill="#000" stroke="none" stroke-width="0" />
<circle cx="511.05" cy="227.73" r="0.55" fill="#000" stroke="none" stroke-width="0" />
<circle cx="512.42" cy="227.85" r="0.55" fill="#000" stroke="none" stroke-width="0" />
<circle cx="513.8" cy="227.96" r="0.55" fill="#000" stroke="none" stroke-width="0" />
<circle cx="515.18" cy="228.06" r="0.55" fill="#000" stroke="none" stroke-width="0" />
<circle cx="516.56" cy="228.15" r="0.55" fill="#000" stroke="none" stroke-width="0" />
<circle cx="517.93" cy="228.23" r="0.55" fill="#000" stroke="none" stroke-width="0" />
<circle cx="519.31" cy="228.31" r="0.55" fill="#000" stroke="none" stroke-width="0" />
<circle cx="520.69" cy="228.37" r="0.55" fill="#000" stroke="none" stroke-width="0" />
<circle cx="522.06" cy="228.44" r="0.55" fill="#000" stroke="none" stroke-width="0" />
<circle cx="523.44" cy="228.49" r="0.55" fill="#000" stroke="none" stroke-width="0" />
<circle cx="524.82" cy="228.55" r="0.55" fill="#000" stroke="none" stroke-width="0" />
<circle cx="526.19" cy="228.6" r="0.55" fill="#000" stroke="none" stroke-width="0" />
<circle cx="527.57" cy="228.64" r="0.55" fill="#000" stroke="none" stroke-width="0" />
<circle cx="528.95" cy="228.68" r="0.55" fill="#000" stroke="none" stroke-width="0" />
<circle cx="530.32" cy="228.72" r="0.55" fill="#000" stroke="none" stroke-width="0" />
<circle cx="531.7" cy="228.76" r="0.55" fill="#000" stroke="none" stroke-width="0" />
<line x1="436.7" y1="229.5" x2="531.7" y2="229.5" stroke="#5a3ae0" stroke-width="1.0" />
</g>
<path d="M436.7,131 V230.4 H531.7" fill="none" stroke="#999" stroke-width="0.9"/>
<path d="M436.7,131 H531.7 V230.4" fill="none" stroke="#bbb" stroke-width="0.8"/>
<line x1="436.7" y1="230.4" x2="436.7" y2="231.9" stroke="#888" stroke-width="0.7"/>
<text x="436.7" y="237.1" font-size="5.7" text-anchor="middle" font-weight="normal" fill="#000"  stroke="#000" stroke-width="0.1">130</text>
<line x1="460.45" y1="230.4" x2="460.45" y2="231.9" stroke="#888" stroke-width="0.7"/>
<text x="460.45" y="237.1" font-size="5.7" text-anchor="middle" font-weight="normal" fill="#000"  stroke="#000" stroke-width="0.1">120</text>
<line x1="484.2" y1="230.4" x2="484.2" y2="231.9" stroke="#888" stroke-width="0.7"/>
<text x="484.2" y="237.1" font-size="5.7" text-anchor="middle" font-weight="normal" fill="#000"  stroke="#000" stroke-width="0.1">110</text>
<line x1="507.95" y1="230.4" x2="507.95" y2="231.9" stroke="#888" stroke-width="0.7"/>
<text x="507.95" y="237.1" font-size="5.7" text-anchor="middle" font-weight="normal" fill="#000"  stroke="#000" stroke-width="0.1">100</text>
<line x1="531.7" y1="230.4" x2="531.7" y2="231.9" stroke="#888" stroke-width="0.7"/>
<text x="531.7" y="237.1" font-size="5.7" text-anchor="middle" font-weight="normal" fill="#000"  stroke="#000" stroke-width="0.1">90</text>
<text x="460" y="241.9" font-size="3.8" text-anchor="start" font-weight="normal" fill="#000"  stroke="#000" stroke-width="0.1">27</text>
<text x="464.2" y="244.7" font-size="6" text-anchor="start" font-weight="normal" fill="#000" textLength="44.8" lengthAdjust="spacingAndGlyphs" stroke="#000" stroke-width="0.1">Al MAS NMR (ppm)</text>
<text x="431.3" y="179.5" font-size="5.6" text-anchor="middle" transform="rotate(-90 431.3 179.5)" textLength="31.5" lengthAdjust="spacingAndGlyphs" stroke="#000" stroke-width="0.1">Intensity (a.u.)</text>
<text x="441.6" y="147.3" font-size="10.6" text-anchor="start" font-weight="normal" fill="#000"  stroke="#000" stroke-width="0.28">(f)</text>
<circle cx="485" cy="141.6" r="0.9" fill="#000" stroke="none" stroke-width="0" />
<line x1="482.4" y1="146.6" x2="488.8" y2="146.6" stroke="#333" stroke-width="0.9" />
<text x="491.2" y="143.4" font-size="5" text-anchor="start" font-weight="normal" fill="#222" textLength="25" lengthAdjust="spacingAndGlyphs" stroke="none">Experimental</text>
<text x="491.2" y="149" font-size="5" text-anchor="start" font-weight="normal" fill="#222" textLength="35.5" lengthAdjust="spacingAndGlyphs" stroke="none">Cumulative peakfit</text>
<text x="468.6" y="155.0" font-size="6.6" font-weight="bold" fill="#f01818" stroke="#f01818" stroke-width="0.18">AlN<tspan font-size="4.4" dy="1.2">4</tspan></text>
<text x="500.8" y="212.8" font-size="7.0" font-weight="bold" fill="#f01818" textLength="17.6" lengthAdjust="spacingAndGlyphs" stroke="#f01818" stroke-width="0.18">AlN<tspan font-size="4.5" dy="1">3</tspan><tspan dy="-1">O</tspan></text>
<line x1="499.8" y1="215.4" x2="491.5" y2="221.4" stroke="#6a7af0" stroke-width="0.8" />
<path d="M489.6,222.8 L491.0,219.8 L492.6,222.0 Z" fill="#1a2ef0"/>
</svg>
</body></html>
